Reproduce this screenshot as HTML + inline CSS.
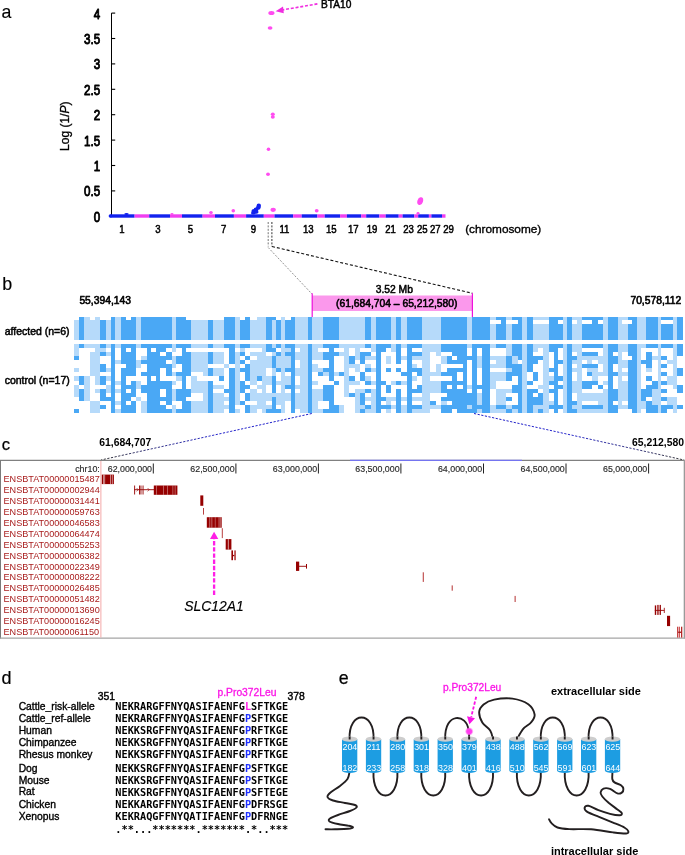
<!DOCTYPE html>
<html><head><meta charset="utf-8"><title>Figure</title>
<style>html,body{margin:0;padding:0;background:#fff;} svg{display:block;}</style>
</head><body>
<svg width="685" height="855" viewBox="0 0 685 855">
<rect width="685" height="855" fill="#fff"/>
<text x="1.6" y="17.7" font-size="17.8" fill="#000" stroke="#000" stroke-width="0.1" stroke-linejoin="round" font-family='"Liberation Sans", Arial, Helvetica, sans-serif'>a</text>
<line x1="111.5" y1="13.1" x2="111.5" y2="216.5" stroke="#000" stroke-width="1"/>
<line x1="111.5" y1="13.1" x2="115.2" y2="13.1" stroke="#000" stroke-width="1.1"/>
<text transform="translate(100.2,18.6) scale(1.0,1.25)" font-size="11.6" text-anchor="end" fill="#000" stroke="#000" stroke-width="0.75" stroke-linejoin="round" font-family='"Liberation Sans", Arial, Helvetica, sans-serif'>4</text>
<line x1="111.5" y1="38.5" x2="115.2" y2="38.5" stroke="#000" stroke-width="1.1"/>
<text transform="translate(100.2,44.0) scale(1.0,1.25)" font-size="11.6" text-anchor="end" fill="#000" stroke="#000" stroke-width="0.75" stroke-linejoin="round" font-family='"Liberation Sans", Arial, Helvetica, sans-serif'>3.5</text>
<line x1="111.5" y1="63.9" x2="115.2" y2="63.9" stroke="#000" stroke-width="1.1"/>
<text transform="translate(100.2,69.4) scale(1.0,1.25)" font-size="11.6" text-anchor="end" fill="#000" stroke="#000" stroke-width="0.75" stroke-linejoin="round" font-family='"Liberation Sans", Arial, Helvetica, sans-serif'>3</text>
<line x1="111.5" y1="89.3" x2="115.2" y2="89.3" stroke="#000" stroke-width="1.1"/>
<text transform="translate(100.2,94.8) scale(1.0,1.25)" font-size="11.6" text-anchor="end" fill="#000" stroke="#000" stroke-width="0.75" stroke-linejoin="round" font-family='"Liberation Sans", Arial, Helvetica, sans-serif'>2.5</text>
<line x1="111.5" y1="114.7" x2="115.2" y2="114.7" stroke="#000" stroke-width="1.1"/>
<text transform="translate(100.2,120.2) scale(1.0,1.25)" font-size="11.6" text-anchor="end" fill="#000" stroke="#000" stroke-width="0.75" stroke-linejoin="round" font-family='"Liberation Sans", Arial, Helvetica, sans-serif'>2</text>
<line x1="111.5" y1="140.1" x2="115.2" y2="140.1" stroke="#000" stroke-width="1.1"/>
<text transform="translate(100.2,145.6) scale(1.0,1.25)" font-size="11.6" text-anchor="end" fill="#000" stroke="#000" stroke-width="0.75" stroke-linejoin="round" font-family='"Liberation Sans", Arial, Helvetica, sans-serif'>1.5</text>
<line x1="111.5" y1="165.5" x2="115.2" y2="165.5" stroke="#000" stroke-width="1.1"/>
<text transform="translate(100.2,171.0) scale(1.0,1.25)" font-size="11.6" text-anchor="end" fill="#000" stroke="#000" stroke-width="0.75" stroke-linejoin="round" font-family='"Liberation Sans", Arial, Helvetica, sans-serif'>1</text>
<line x1="111.5" y1="190.9" x2="115.2" y2="190.9" stroke="#000" stroke-width="1.1"/>
<text transform="translate(100.2,196.4) scale(1.0,1.25)" font-size="11.6" text-anchor="end" fill="#000" stroke="#000" stroke-width="0.75" stroke-linejoin="round" font-family='"Liberation Sans", Arial, Helvetica, sans-serif'>0.5</text>
<text transform="translate(100.2,221.8) scale(1.0,1.25)" font-size="11.6" text-anchor="end" fill="#000" stroke="#000" stroke-width="0.75" stroke-linejoin="round" font-family='"Liberation Sans", Arial, Helvetica, sans-serif'>0</text>
<text transform="translate(69.3,126.2) rotate(-90) scale(1,1.12)" font-size="12" text-anchor="middle" stroke="#000" stroke-width="0.3" font-family='"Liberation Sans", Arial, Helvetica, sans-serif'>Log (1/<tspan font-style="italic">P</tspan>)</text>
<rect x="110.4" y="214.3" width="24.20" height="3.4" fill="#1222ee"/>
<rect x="134.6" y="214.3" width="14.60" height="3.4" fill="#f03ef0"/>
<rect x="149.2" y="214.3" width="20.80" height="3.4" fill="#1222ee"/>
<rect x="170" y="214.3" width="12.00" height="3.4" fill="#f03ef0"/>
<rect x="182" y="214.3" width="20.60" height="3.4" fill="#1222ee"/>
<rect x="202.6" y="214.3" width="12.40" height="3.4" fill="#f03ef0"/>
<rect x="215" y="214.3" width="18.90" height="3.4" fill="#1222ee"/>
<rect x="233.9" y="214.3" width="12.20" height="3.4" fill="#f03ef0"/>
<rect x="246.1" y="214.3" width="17.70" height="3.4" fill="#1222ee"/>
<rect x="263.8" y="214.3" width="10.70" height="3.4" fill="#f03ef0"/>
<rect x="274.5" y="214.3" width="18.70" height="3.4" fill="#1222ee"/>
<rect x="293.2" y="214.3" width="8.50" height="3.4" fill="#f03ef0"/>
<rect x="301.7" y="214.3" width="15.70" height="3.4" fill="#1222ee"/>
<rect x="317.4" y="214.3" width="7.30" height="3.4" fill="#f03ef0"/>
<rect x="324.7" y="214.3" width="15.40" height="3.4" fill="#1222ee"/>
<rect x="340.1" y="214.3" width="6.80" height="3.4" fill="#f03ef0"/>
<rect x="346.9" y="214.3" width="14.30" height="3.4" fill="#1222ee"/>
<rect x="361.2" y="214.3" width="5.00" height="3.4" fill="#f03ef0"/>
<rect x="366.2" y="214.3" width="13.10" height="3.4" fill="#1222ee"/>
<rect x="379.3" y="214.3" width="6.40" height="3.4" fill="#f03ef0"/>
<rect x="385.7" y="214.3" width="13.00" height="3.4" fill="#1222ee"/>
<rect x="398.7" y="214.3" width="3.90" height="3.4" fill="#f03ef0"/>
<rect x="402.6" y="214.3" width="11.70" height="3.4" fill="#1222ee"/>
<rect x="414.3" y="214.3" width="3.90" height="3.4" fill="#f03ef0"/>
<rect x="418.2" y="214.3" width="10.70" height="3.4" fill="#1222ee"/>
<rect x="428.9" y="214.3" width="2.50" height="3.4" fill="#f03ef0"/>
<rect x="431.4" y="214.3" width="10.60" height="3.4" fill="#1222ee"/>
<rect x="442" y="214.3" width="3.50" height="3.4" fill="#f03ef0"/>
<circle cx="110.4" cy="216" r="1.75" fill="#1222ee"/>
<ellipse cx="271.4" cy="12.9" rx="3.1" ry="2.0" fill="#ff4cf0"/>
<ellipse cx="270.1" cy="28" rx="2.4" ry="1.8" fill="#ff4cf0"/>
<ellipse cx="272.8" cy="114.3" rx="2.0" ry="1.7" fill="#ff4cf0"/>
<ellipse cx="272.8" cy="117" rx="2.0" ry="1.7" fill="#ff4cf0"/>
<ellipse cx="268.5" cy="149.3" rx="1.8" ry="1.7" fill="#ff4cf0"/>
<ellipse cx="268" cy="174.3" rx="1.9" ry="1.8" fill="#ff4cf0"/>
<ellipse cx="273.2" cy="209.8" rx="2.7" ry="2.1" fill="#ff4cf0"/>
<ellipse cx="233.3" cy="210.8" rx="1.8" ry="1.7" fill="#ff4cf0"/>
<ellipse cx="211" cy="212.6" rx="1.8" ry="1.5" fill="#ff4cf0"/>
<ellipse cx="316.7" cy="210.8" rx="1.9" ry="1.8" fill="#ff4cf0"/>
<ellipse cx="418" cy="213.3" rx="1.5" ry="1.2" fill="#ff4cf0"/>
<ellipse cx="172" cy="214" rx="1.6" ry="1.1" fill="#ff4cf0"/>
<ellipse cx="254.2" cy="211.5" rx="2.7" ry="2.4" fill="#1222ee"/>
<ellipse cx="256.0" cy="209.8" rx="2.4" ry="2.2" fill="#1222ee"/>
<ellipse cx="258.3" cy="207.6" rx="2.3" ry="2.2" fill="#1222ee"/>
<ellipse cx="258.8" cy="205.8" rx="2.2" ry="2.2" fill="#1222ee"/>
<ellipse cx="253.2" cy="213" rx="2.2" ry="1.6" fill="#1222ee"/>
<ellipse cx="256.5" cy="212" rx="2.0" ry="1.8" fill="#1222ee"/>
<ellipse cx="126.5" cy="214.0" rx="2.2" ry="0.9" fill="#1222ee"/>
<ellipse cx="0" cy="0" rx="2.8" ry="4.0" transform="translate(420.2,201.1) rotate(18)" fill="#ff4cf0"/>
<text transform="translate(121.8,232.8) scale(1.0,1.22)" font-size="9.6" text-anchor="middle" fill="#000" stroke="#000" stroke-width="0.45" stroke-linejoin="round" font-family='"Liberation Sans", Arial, Helvetica, sans-serif'>1</text>
<text transform="translate(157.8,232.8) scale(1.0,1.22)" font-size="9.6" text-anchor="middle" fill="#000" stroke="#000" stroke-width="0.45" stroke-linejoin="round" font-family='"Liberation Sans", Arial, Helvetica, sans-serif'>3</text>
<text transform="translate(190.4,232.8) scale(1.0,1.22)" font-size="9.6" text-anchor="middle" fill="#000" stroke="#000" stroke-width="0.45" stroke-linejoin="round" font-family='"Liberation Sans", Arial, Helvetica, sans-serif'>5</text>
<text transform="translate(223.6,232.8) scale(1.0,1.22)" font-size="9.6" text-anchor="middle" fill="#000" stroke="#000" stroke-width="0.45" stroke-linejoin="round" font-family='"Liberation Sans", Arial, Helvetica, sans-serif'>7</text>
<text transform="translate(253.3,232.8) scale(1.0,1.22)" font-size="9.6" text-anchor="middle" fill="#000" stroke="#000" stroke-width="0.45" stroke-linejoin="round" font-family='"Liberation Sans", Arial, Helvetica, sans-serif'>9</text>
<text transform="translate(284.4,232.8) scale(1.0,1.22)" font-size="9.6" text-anchor="middle" fill="#000" stroke="#000" stroke-width="0.45" stroke-linejoin="round" font-family='"Liberation Sans", Arial, Helvetica, sans-serif'>11</text>
<text transform="translate(308.2,232.8) scale(1.0,1.22)" font-size="9.6" text-anchor="middle" fill="#000" stroke="#000" stroke-width="0.45" stroke-linejoin="round" font-family='"Liberation Sans", Arial, Helvetica, sans-serif'>13</text>
<text transform="translate(331.3,232.8) scale(1.0,1.22)" font-size="9.6" text-anchor="middle" fill="#000" stroke="#000" stroke-width="0.45" stroke-linejoin="round" font-family='"Liberation Sans", Arial, Helvetica, sans-serif'>15</text>
<text transform="translate(353.2,232.8) scale(1.0,1.22)" font-size="9.6" text-anchor="middle" fill="#000" stroke="#000" stroke-width="0.45" stroke-linejoin="round" font-family='"Liberation Sans", Arial, Helvetica, sans-serif'>17</text>
<text transform="translate(372,232.8) scale(1.0,1.22)" font-size="9.6" text-anchor="middle" fill="#000" stroke="#000" stroke-width="0.45" stroke-linejoin="round" font-family='"Liberation Sans", Arial, Helvetica, sans-serif'>19</text>
<text transform="translate(390.5,232.8) scale(1.0,1.22)" font-size="9.6" text-anchor="middle" fill="#000" stroke="#000" stroke-width="0.45" stroke-linejoin="round" font-family='"Liberation Sans", Arial, Helvetica, sans-serif'>21</text>
<text transform="translate(408.5,232.8) scale(1.0,1.22)" font-size="9.6" text-anchor="middle" fill="#000" stroke="#000" stroke-width="0.45" stroke-linejoin="round" font-family='"Liberation Sans", Arial, Helvetica, sans-serif'>23</text>
<text transform="translate(422.3,232.8) scale(1.0,1.22)" font-size="9.6" text-anchor="middle" fill="#000" stroke="#000" stroke-width="0.45" stroke-linejoin="round" font-family='"Liberation Sans", Arial, Helvetica, sans-serif'>25</text>
<text transform="translate(435.2,232.8) scale(1.0,1.22)" font-size="9.6" text-anchor="middle" fill="#000" stroke="#000" stroke-width="0.45" stroke-linejoin="round" font-family='"Liberation Sans", Arial, Helvetica, sans-serif'>27</text>
<text transform="translate(448.6,232.8) scale(1.0,1.22)" font-size="9.6" text-anchor="middle" fill="#000" stroke="#000" stroke-width="0.45" stroke-linejoin="round" font-family='"Liberation Sans", Arial, Helvetica, sans-serif'>29</text>
<text x="465.2" y="233.3" font-size="11.8" fill="#000" stroke="#000" stroke-width="0.35" stroke-linejoin="round" font-family='"Liberation Sans", Arial, Helvetica, sans-serif'>(chromosome)</text>
<text transform="translate(320.9,7.6) scale(1.0,1.08)" font-size="10.2" fill="#000" stroke="#000" stroke-width="0.45" stroke-linejoin="round" font-family='"Liberation Sans", Arial, Helvetica, sans-serif'>BTA10</text>
<line x1="317.4" y1="3.9" x2="282" y2="10" stroke="#f02ee0" stroke-width="1.6" stroke-dasharray="3,1.8"/>
<polygon points="275.6,11.3 283.0,6.6 283.8,13.2" fill="#f02ee0"/>
<line x1="268.2" y1="222" x2="268.2" y2="246.5" stroke="#666" stroke-width="0.9" stroke-dasharray="2,1.4"/>
<line x1="271.9" y1="222" x2="271.9" y2="246.5" stroke="#333" stroke-width="1" stroke-dasharray="2,1.4"/>
<line x1="268.2" y1="247.5" x2="312" y2="294" stroke="#777" stroke-width="0.8" stroke-dasharray="2,1.5"/>
<line x1="272" y1="246.5" x2="472.5" y2="293.3" stroke="#111" stroke-width="1.1" stroke-dasharray="3,2"/>
<text x="2.2" y="289.9" font-size="17.9" fill="#000" stroke="#000" stroke-width="0.15" stroke-linejoin="round" font-family='"Liberation Sans", Arial, Helvetica, sans-serif'>b</text>
<text x="79.4" y="304.2" font-size="10.3" fill="#000" stroke="#000" stroke-width="0.6" stroke-linejoin="round" font-family='"Liberation Sans", Arial, Helvetica, sans-serif'>55,394,143</text>
<text x="681.2" y="304.0" font-size="10.3" text-anchor="end" fill="#000" stroke="#000" stroke-width="0.6" stroke-linejoin="round" font-family='"Liberation Sans", Arial, Helvetica, sans-serif'>70,578,112</text>
<rect x="312" y="295.5" width="160.5" height="15.5" fill="#fb98ec"/>
<line x1="312.2" y1="293.3" x2="312.2" y2="317" stroke="#ee12dc" stroke-width="1.2"/>
<line x1="472.4" y1="293.3" x2="472.4" y2="317" stroke="#ee12dc" stroke-width="1.2"/>
<text x="394.3" y="293.2" font-size="10.3" text-anchor="middle" fill="#000" stroke="#000" stroke-width="0.5" stroke-linejoin="round" font-family='"Liberation Sans", Arial, Helvetica, sans-serif'>3.52 Mb</text>
<text x="396.7" y="307.3" font-size="10.3" text-anchor="middle" fill="#000" stroke="#000" stroke-width="0.55" stroke-linejoin="round" font-family='"Liberation Sans", Arial, Helvetica, sans-serif'>(61,684,704 – 65,212,580)</text>
<text x="4.7" y="335.3" font-size="10.5" fill="#000" stroke="#000" stroke-width="0.5" stroke-linejoin="round" font-family='"Liberation Sans", Arial, Helvetica, sans-serif'>affected (n=6)</text>
<text x="4.7" y="384.0" font-size="10.5" fill="#000" stroke="#000" stroke-width="0.5" stroke-linejoin="round" font-family='"Liberation Sans", Arial, Helvetica, sans-serif'>control (n=17)</text>
<g shape-rendering="crispEdges"><rect x="73.60" y="320.30" width="5.10" height="19.50" fill="#b6dafa"/><rect x="73.60" y="344.00" width="5.10" height="12.18" fill="#b6dafa"/><rect x="73.60" y="356.18" width="5.10" height="4.06" fill="#4aa8f5"/><rect x="73.60" y="368.35" width="5.10" height="4.06" fill="#b6dafa"/><rect x="73.60" y="376.47" width="5.10" height="4.06" fill="#b6dafa"/><rect x="73.60" y="384.59" width="5.10" height="12.18" fill="#b6dafa"/><rect x="73.60" y="408.94" width="5.10" height="4.06" fill="#4aa8f5"/><rect x="78.70" y="317.00" width="5.60" height="22.80" fill="#4aa8f5"/><rect x="78.70" y="344.00" width="5.60" height="4.06" fill="#4aa8f5"/><rect x="78.70" y="376.47" width="5.60" height="8.12" fill="#4aa8f5"/><rect x="78.70" y="388.65" width="5.60" height="12.18" fill="#4aa8f5"/><rect x="84.30" y="317.00" width="5.20" height="22.80" fill="#b6dafa"/><rect x="84.30" y="344.00" width="5.20" height="4.06" fill="#b6dafa"/><rect x="84.30" y="376.47" width="5.20" height="24.35" fill="#b6dafa"/><rect x="89.50" y="320.30" width="5.60" height="19.50" fill="#b6dafa"/><rect x="89.50" y="344.00" width="5.60" height="4.06" fill="#b6dafa"/><rect x="89.50" y="352.12" width="5.60" height="24.35" fill="#b6dafa"/><rect x="89.50" y="400.82" width="5.60" height="12.18" fill="#b6dafa"/><rect x="95.10" y="317.00" width="5.10" height="22.80" fill="#b6dafa"/><rect x="95.10" y="344.00" width="5.10" height="40.59" fill="#b6dafa"/><rect x="95.10" y="388.65" width="5.10" height="4.06" fill="#b6dafa"/><rect x="95.10" y="400.82" width="5.10" height="12.18" fill="#b6dafa"/><rect x="100.20" y="320.30" width="6.00" height="19.50" fill="#4aa8f5"/><rect x="100.20" y="344.00" width="6.00" height="4.06" fill="#4aa8f5"/><rect x="100.20" y="348.06" width="6.00" height="4.06" fill="#b6dafa"/><rect x="100.20" y="352.12" width="6.00" height="4.06" fill="#4aa8f5"/><rect x="100.20" y="364.29" width="6.00" height="8.12" fill="#4aa8f5"/><rect x="100.20" y="376.47" width="6.00" height="8.12" fill="#4aa8f5"/><rect x="100.20" y="388.65" width="6.00" height="12.18" fill="#4aa8f5"/><rect x="100.20" y="404.88" width="6.00" height="4.06" fill="#4aa8f5"/><rect x="106.20" y="320.30" width="5.20" height="19.50" fill="#b6dafa"/><rect x="106.20" y="344.00" width="5.20" height="4.06" fill="#b6dafa"/><rect x="106.20" y="352.12" width="5.20" height="4.06" fill="#b6dafa"/><rect x="106.20" y="368.35" width="5.20" height="4.06" fill="#b6dafa"/><rect x="106.20" y="376.47" width="5.20" height="4.06" fill="#b6dafa"/><rect x="106.20" y="384.59" width="5.20" height="8.12" fill="#b6dafa"/><rect x="106.20" y="396.76" width="5.20" height="4.06" fill="#4aa8f5"/><rect x="111.40" y="317.00" width="3.60" height="22.80" fill="#4aa8f5"/><rect x="111.40" y="344.00" width="3.60" height="69.00" fill="#4aa8f5"/><rect x="115.00" y="317.00" width="6.00" height="22.80" fill="#b6dafa"/><rect x="115.00" y="344.00" width="6.00" height="4.06" fill="#b6dafa"/><rect x="115.00" y="360.24" width="6.00" height="4.06" fill="#b6dafa"/><rect x="115.00" y="380.53" width="6.00" height="4.06" fill="#b6dafa"/><rect x="115.00" y="388.65" width="6.00" height="4.06" fill="#b6dafa"/><rect x="115.00" y="400.82" width="6.00" height="4.06" fill="#b6dafa"/><rect x="115.00" y="408.94" width="6.00" height="4.06" fill="#b6dafa"/><rect x="121.00" y="317.00" width="5.10" height="22.80" fill="#4aa8f5"/><rect x="121.00" y="344.00" width="5.10" height="20.29" fill="#4aa8f5"/><rect x="121.00" y="368.35" width="5.10" height="44.65" fill="#4aa8f5"/><rect x="126.10" y="320.30" width="5.30" height="19.50" fill="#4aa8f5"/><rect x="126.10" y="344.00" width="5.30" height="4.06" fill="#4aa8f5"/><rect x="126.10" y="352.12" width="5.30" height="24.35" fill="#4aa8f5"/><rect x="126.10" y="384.59" width="5.30" height="4.06" fill="#4aa8f5"/><rect x="126.10" y="392.71" width="5.30" height="8.12" fill="#4aa8f5"/><rect x="126.10" y="404.88" width="5.30" height="8.12" fill="#4aa8f5"/><rect x="131.40" y="317.00" width="4.60" height="22.80" fill="#4aa8f5"/><rect x="131.40" y="344.00" width="4.60" height="32.47" fill="#4aa8f5"/><rect x="131.40" y="380.53" width="4.60" height="16.24" fill="#4aa8f5"/><rect x="131.40" y="400.82" width="4.60" height="12.18" fill="#4aa8f5"/><rect x="136.00" y="317.00" width="5.10" height="22.80" fill="#b6dafa"/><rect x="136.00" y="344.00" width="5.10" height="4.06" fill="#b6dafa"/><rect x="136.00" y="360.24" width="5.10" height="8.12" fill="#b6dafa"/><rect x="136.00" y="380.53" width="5.10" height="8.12" fill="#b6dafa"/><rect x="136.00" y="396.76" width="5.10" height="4.06" fill="#b6dafa"/><rect x="141.10" y="317.00" width="5.40" height="22.80" fill="#4aa8f5"/><rect x="141.10" y="344.00" width="5.40" height="4.06" fill="#4aa8f5"/><rect x="141.10" y="356.18" width="5.40" height="4.06" fill="#b6dafa"/><rect x="141.10" y="360.24" width="5.40" height="4.06" fill="#4aa8f5"/><rect x="141.10" y="372.41" width="5.40" height="4.06" fill="#4aa8f5"/><rect x="141.10" y="384.59" width="5.40" height="8.12" fill="#4aa8f5"/><rect x="141.10" y="400.82" width="5.40" height="12.18" fill="#b6dafa"/><rect x="146.50" y="317.00" width="4.20" height="22.80" fill="#4aa8f5"/><rect x="146.50" y="344.00" width="4.20" height="69.00" fill="#4aa8f5"/><rect x="150.70" y="317.00" width="5.30" height="22.80" fill="#4aa8f5"/><rect x="150.70" y="344.00" width="5.30" height="4.06" fill="#4aa8f5"/><rect x="150.70" y="352.12" width="5.30" height="24.35" fill="#4aa8f5"/><rect x="150.70" y="380.53" width="5.30" height="32.47" fill="#4aa8f5"/><rect x="156.00" y="317.00" width="4.20" height="22.80" fill="#4aa8f5"/><rect x="156.00" y="344.00" width="4.20" height="69.00" fill="#4aa8f5"/><rect x="160.20" y="317.00" width="5.40" height="22.80" fill="#4aa8f5"/><rect x="160.20" y="344.00" width="5.40" height="8.12" fill="#4aa8f5"/><rect x="160.20" y="356.18" width="5.40" height="12.18" fill="#4aa8f5"/><rect x="160.20" y="380.53" width="5.40" height="8.12" fill="#4aa8f5"/><rect x="160.20" y="396.76" width="5.40" height="4.06" fill="#4aa8f5"/><rect x="160.20" y="404.88" width="5.40" height="8.12" fill="#4aa8f5"/><rect x="165.60" y="317.00" width="6.00" height="22.80" fill="#4aa8f5"/><rect x="165.60" y="344.00" width="6.00" height="4.06" fill="#4aa8f5"/><rect x="165.60" y="352.12" width="6.00" height="8.12" fill="#4aa8f5"/><rect x="165.60" y="364.29" width="6.00" height="12.18" fill="#4aa8f5"/><rect x="165.60" y="380.53" width="6.00" height="24.35" fill="#4aa8f5"/><rect x="165.60" y="408.94" width="6.00" height="4.06" fill="#4aa8f5"/><rect x="171.60" y="317.00" width="4.70" height="22.80" fill="#b6dafa"/><rect x="171.60" y="344.00" width="4.70" height="8.12" fill="#b6dafa"/><rect x="171.60" y="356.18" width="4.70" height="12.18" fill="#b6dafa"/><rect x="171.60" y="372.41" width="4.70" height="4.06" fill="#b6dafa"/><rect x="171.60" y="380.53" width="4.70" height="4.06" fill="#b6dafa"/><rect x="171.60" y="388.65" width="4.70" height="12.18" fill="#b6dafa"/><rect x="171.60" y="404.88" width="4.70" height="8.12" fill="#b6dafa"/><rect x="176.30" y="317.00" width="5.40" height="22.80" fill="#4aa8f5"/><rect x="176.30" y="344.00" width="5.40" height="4.06" fill="#4aa8f5"/><rect x="176.30" y="356.18" width="5.40" height="8.12" fill="#4aa8f5"/><rect x="176.30" y="372.41" width="5.40" height="4.06" fill="#4aa8f5"/><rect x="176.30" y="376.47" width="5.40" height="4.06" fill="#b6dafa"/><rect x="176.30" y="388.65" width="5.40" height="12.18" fill="#4aa8f5"/><rect x="176.30" y="408.94" width="5.40" height="4.06" fill="#4aa8f5"/><rect x="181.70" y="317.00" width="4.40" height="22.80" fill="#4aa8f5"/><rect x="181.70" y="344.00" width="4.40" height="69.00" fill="#4aa8f5"/><rect x="186.10" y="320.30" width="4.90" height="19.50" fill="#4aa8f5"/><rect x="186.10" y="344.00" width="4.90" height="4.06" fill="#4aa8f5"/><rect x="186.10" y="352.12" width="4.90" height="24.35" fill="#4aa8f5"/><rect x="186.10" y="388.65" width="4.90" height="8.12" fill="#4aa8f5"/><rect x="186.10" y="400.82" width="4.90" height="12.18" fill="#4aa8f5"/><rect x="191.00" y="320.30" width="6.20" height="19.50" fill="#b6dafa"/><rect x="191.00" y="344.00" width="6.20" height="4.06" fill="#b6dafa"/><rect x="191.00" y="352.12" width="6.20" height="20.29" fill="#b6dafa"/><rect x="191.00" y="376.47" width="6.20" height="16.24" fill="#b6dafa"/><rect x="191.00" y="400.82" width="6.20" height="12.18" fill="#b6dafa"/><rect x="197.20" y="320.30" width="5.30" height="19.50" fill="#b6dafa"/><rect x="197.20" y="344.00" width="5.30" height="4.06" fill="#b6dafa"/><rect x="197.20" y="352.12" width="5.30" height="20.29" fill="#b6dafa"/><rect x="197.20" y="380.53" width="5.30" height="12.18" fill="#b6dafa"/><rect x="197.20" y="400.82" width="5.30" height="12.18" fill="#b6dafa"/><rect x="202.50" y="320.30" width="5.40" height="19.50" fill="#b6dafa"/><rect x="202.50" y="344.00" width="5.40" height="4.06" fill="#b6dafa"/><rect x="202.50" y="352.12" width="5.40" height="24.35" fill="#b6dafa"/><rect x="202.50" y="380.53" width="5.40" height="32.47" fill="#b6dafa"/><rect x="207.90" y="320.30" width="5.00" height="19.50" fill="#4aa8f5"/><rect x="207.90" y="344.00" width="5.00" height="4.06" fill="#4aa8f5"/><rect x="207.90" y="352.12" width="5.00" height="12.18" fill="#4aa8f5"/><rect x="207.90" y="368.35" width="5.00" height="8.12" fill="#4aa8f5"/><rect x="207.90" y="380.53" width="5.00" height="32.47" fill="#4aa8f5"/><rect x="212.90" y="320.30" width="5.70" height="19.50" fill="#b6dafa"/><rect x="212.90" y="344.00" width="5.70" height="4.06" fill="#b6dafa"/><rect x="212.90" y="352.12" width="5.70" height="12.18" fill="#b6dafa"/><rect x="212.90" y="368.35" width="5.70" height="8.12" fill="#b6dafa"/><rect x="212.90" y="384.59" width="5.70" height="4.06" fill="#b6dafa"/><rect x="212.90" y="392.71" width="5.70" height="20.29" fill="#b6dafa"/><rect x="218.60" y="320.30" width="5.80" height="19.50" fill="#b6dafa"/><rect x="218.60" y="344.00" width="5.80" height="4.06" fill="#b6dafa"/><rect x="218.60" y="352.12" width="5.80" height="12.18" fill="#b6dafa"/><rect x="218.60" y="368.35" width="5.80" height="8.12" fill="#b6dafa"/><rect x="218.60" y="376.47" width="5.80" height="4.06" fill="#4aa8f5"/><rect x="218.60" y="384.59" width="5.80" height="4.06" fill="#b6dafa"/><rect x="218.60" y="392.71" width="5.80" height="20.29" fill="#b6dafa"/><rect x="224.40" y="317.00" width="5.00" height="22.80" fill="#4aa8f5"/><rect x="224.40" y="344.00" width="5.00" height="4.06" fill="#4aa8f5"/><rect x="224.40" y="364.29" width="5.00" height="4.06" fill="#b6dafa"/><rect x="224.40" y="388.65" width="5.00" height="4.06" fill="#4aa8f5"/><rect x="224.40" y="396.76" width="5.00" height="4.06" fill="#b6dafa"/><rect x="224.40" y="404.88" width="5.00" height="4.06" fill="#b6dafa"/><rect x="229.40" y="317.00" width="5.30" height="22.80" fill="#4aa8f5"/><rect x="229.40" y="344.00" width="5.30" height="20.29" fill="#4aa8f5"/><rect x="229.40" y="368.35" width="5.30" height="44.65" fill="#4aa8f5"/><rect x="234.70" y="317.00" width="4.80" height="22.80" fill="#b6dafa"/><rect x="234.70" y="344.00" width="4.80" height="4.06" fill="#b6dafa"/><rect x="234.70" y="352.12" width="4.80" height="52.76" fill="#b6dafa"/><rect x="234.70" y="408.94" width="4.80" height="4.06" fill="#b6dafa"/><rect x="239.50" y="320.30" width="5.40" height="19.50" fill="#4aa8f5"/><rect x="239.50" y="344.00" width="5.40" height="4.06" fill="#4aa8f5"/><rect x="239.50" y="348.06" width="5.40" height="4.06" fill="#b6dafa"/><rect x="239.50" y="352.12" width="5.40" height="4.06" fill="#4aa8f5"/><rect x="239.50" y="360.24" width="5.40" height="4.06" fill="#4aa8f5"/><rect x="239.50" y="368.35" width="5.40" height="4.06" fill="#4aa8f5"/><rect x="239.50" y="380.53" width="5.40" height="12.18" fill="#4aa8f5"/><rect x="239.50" y="400.82" width="5.40" height="4.06" fill="#4aa8f5"/><rect x="244.90" y="317.00" width="5.10" height="22.80" fill="#4aa8f5"/><rect x="244.90" y="344.00" width="5.10" height="4.06" fill="#4aa8f5"/><rect x="244.90" y="356.18" width="5.10" height="4.06" fill="#4aa8f5"/><rect x="244.90" y="364.29" width="5.10" height="16.24" fill="#4aa8f5"/><rect x="244.90" y="384.59" width="5.10" height="4.06" fill="#4aa8f5"/><rect x="244.90" y="392.71" width="5.10" height="8.12" fill="#4aa8f5"/><rect x="244.90" y="404.88" width="5.10" height="8.12" fill="#4aa8f5"/><rect x="250.00" y="320.30" width="6.60" height="19.50" fill="#b6dafa"/><rect x="250.00" y="344.00" width="6.60" height="4.06" fill="#b6dafa"/><rect x="250.00" y="352.12" width="6.60" height="4.06" fill="#b6dafa"/><rect x="250.00" y="360.24" width="6.60" height="24.35" fill="#b6dafa"/><rect x="250.00" y="388.65" width="6.60" height="12.18" fill="#b6dafa"/><rect x="250.00" y="404.88" width="6.60" height="8.12" fill="#b6dafa"/><rect x="256.60" y="317.00" width="5.30" height="22.80" fill="#b6dafa"/><rect x="256.60" y="344.00" width="5.30" height="4.06" fill="#b6dafa"/><rect x="256.60" y="352.12" width="5.30" height="24.35" fill="#b6dafa"/><rect x="256.60" y="376.47" width="5.30" height="4.06" fill="#4aa8f5"/><rect x="256.60" y="384.59" width="5.30" height="4.06" fill="#b6dafa"/><rect x="256.60" y="392.71" width="5.30" height="16.24" fill="#b6dafa"/><rect x="261.90" y="317.00" width="4.20" height="22.80" fill="#b6dafa"/><rect x="261.90" y="344.00" width="4.20" height="69.00" fill="#b6dafa"/><rect x="266.10" y="317.00" width="5.40" height="22.80" fill="#4aa8f5"/><rect x="266.10" y="344.00" width="5.40" height="8.12" fill="#4aa8f5"/><rect x="266.10" y="356.18" width="5.40" height="12.18" fill="#b6dafa"/><rect x="266.10" y="376.47" width="5.40" height="8.12" fill="#b6dafa"/><rect x="266.10" y="392.71" width="5.40" height="8.12" fill="#b6dafa"/><rect x="266.10" y="404.88" width="5.40" height="4.06" fill="#b6dafa"/><rect x="266.10" y="408.94" width="5.40" height="4.06" fill="#4aa8f5"/><rect x="271.50" y="317.00" width="4.10" height="3.30" fill="#4aa8f5"/><rect x="271.50" y="320.30" width="4.10" height="19.50" fill="#b6dafa"/><rect x="271.50" y="344.00" width="4.10" height="4.06" fill="#b6dafa"/><rect x="271.50" y="348.06" width="4.10" height="4.06" fill="#4aa8f5"/><rect x="271.50" y="352.12" width="4.10" height="4.06" fill="#b6dafa"/><rect x="271.50" y="356.18" width="4.10" height="12.18" fill="#4aa8f5"/><rect x="271.50" y="368.35" width="4.10" height="8.12" fill="#b6dafa"/><rect x="271.50" y="376.47" width="4.10" height="16.24" fill="#4aa8f5"/><rect x="271.50" y="392.71" width="4.10" height="4.06" fill="#b6dafa"/><rect x="271.50" y="396.76" width="4.10" height="16.24" fill="#4aa8f5"/><rect x="275.60" y="320.30" width="5.40" height="19.50" fill="#4aa8f5"/><rect x="275.60" y="344.00" width="5.40" height="4.06" fill="#4aa8f5"/><rect x="275.60" y="352.12" width="5.40" height="4.06" fill="#4aa8f5"/><rect x="275.60" y="356.18" width="5.40" height="12.18" fill="#b6dafa"/><rect x="275.60" y="368.35" width="5.40" height="4.06" fill="#4aa8f5"/><rect x="275.60" y="380.53" width="5.40" height="4.06" fill="#b6dafa"/><rect x="275.60" y="392.71" width="5.40" height="12.18" fill="#b6dafa"/><rect x="275.60" y="408.94" width="5.40" height="4.06" fill="#4aa8f5"/><rect x="281.00" y="317.00" width="4.20" height="22.80" fill="#b6dafa"/><rect x="281.00" y="344.00" width="4.20" height="69.00" fill="#b6dafa"/><rect x="285.20" y="320.30" width="6.00" height="19.50" fill="#4aa8f5"/><rect x="285.20" y="344.00" width="6.00" height="4.06" fill="#4aa8f5"/><rect x="285.20" y="348.06" width="6.00" height="4.06" fill="#b6dafa"/><rect x="285.20" y="352.12" width="6.00" height="4.06" fill="#4aa8f5"/><rect x="285.20" y="356.18" width="6.00" height="12.18" fill="#b6dafa"/><rect x="285.20" y="368.35" width="6.00" height="4.06" fill="#4aa8f5"/><rect x="285.20" y="376.47" width="6.00" height="8.12" fill="#b6dafa"/><rect x="285.20" y="384.59" width="6.00" height="4.06" fill="#4aa8f5"/><rect x="285.20" y="392.71" width="6.00" height="8.12" fill="#b6dafa"/><rect x="291.20" y="317.00" width="3.50" height="22.80" fill="#4aa8f5"/><rect x="291.20" y="344.00" width="3.50" height="69.00" fill="#4aa8f5"/><rect x="294.70" y="317.00" width="5.40" height="22.80" fill="#b6dafa"/><rect x="294.70" y="344.00" width="5.40" height="4.06" fill="#b6dafa"/><rect x="294.70" y="352.12" width="5.40" height="8.12" fill="#b6dafa"/><rect x="294.70" y="368.35" width="5.40" height="8.12" fill="#b6dafa"/><rect x="294.70" y="384.59" width="5.40" height="4.06" fill="#b6dafa"/><rect x="294.70" y="392.71" width="5.40" height="16.24" fill="#b6dafa"/><rect x="300.10" y="317.00" width="7.80" height="22.80" fill="#b6dafa"/><rect x="300.10" y="344.00" width="7.80" height="69.00" fill="#b6dafa"/><rect x="307.90" y="317.00" width="4.30" height="22.80" fill="#4aa8f5"/><rect x="307.90" y="344.00" width="4.30" height="69.00" fill="#4aa8f5"/><rect x="312.20" y="317.00" width="5.30" height="22.80" fill="#b6dafa"/><rect x="312.20" y="344.00" width="5.30" height="16.24" fill="#b6dafa"/><rect x="312.20" y="364.29" width="5.30" height="8.12" fill="#b6dafa"/><rect x="312.20" y="380.53" width="5.30" height="4.06" fill="#b6dafa"/><rect x="312.20" y="388.65" width="5.30" height="24.35" fill="#b6dafa"/><rect x="317.50" y="317.00" width="5.40" height="22.80" fill="#b6dafa"/><rect x="317.50" y="344.00" width="5.40" height="4.06" fill="#b6dafa"/><rect x="317.50" y="352.12" width="5.40" height="8.12" fill="#b6dafa"/><rect x="317.50" y="368.35" width="5.40" height="4.06" fill="#b6dafa"/><rect x="317.50" y="372.41" width="5.40" height="4.06" fill="#4aa8f5"/><rect x="317.50" y="388.65" width="5.40" height="12.18" fill="#b6dafa"/><rect x="317.50" y="408.94" width="5.40" height="4.06" fill="#b6dafa"/><rect x="322.90" y="317.00" width="6.00" height="22.80" fill="#4aa8f5"/><rect x="322.90" y="344.00" width="6.00" height="4.06" fill="#4aa8f5"/><rect x="322.90" y="352.12" width="6.00" height="8.12" fill="#4aa8f5"/><rect x="322.90" y="368.35" width="6.00" height="4.06" fill="#4aa8f5"/><rect x="322.90" y="372.41" width="6.00" height="4.06" fill="#b6dafa"/><rect x="322.90" y="384.59" width="6.00" height="16.24" fill="#4aa8f5"/><rect x="322.90" y="408.94" width="6.00" height="4.06" fill="#4aa8f5"/><rect x="328.90" y="317.00" width="5.30" height="22.80" fill="#4aa8f5"/><rect x="328.90" y="344.00" width="5.30" height="36.53" fill="#4aa8f5"/><rect x="328.90" y="384.59" width="5.30" height="28.41" fill="#4aa8f5"/><rect x="334.20" y="317.00" width="5.10" height="22.80" fill="#4aa8f5"/><rect x="334.20" y="344.00" width="5.10" height="4.06" fill="#4aa8f5"/><rect x="334.20" y="352.12" width="5.10" height="4.06" fill="#4aa8f5"/><rect x="334.20" y="372.41" width="5.10" height="4.06" fill="#b6dafa"/><rect x="334.20" y="380.53" width="5.10" height="4.06" fill="#4aa8f5"/><rect x="334.20" y="404.88" width="5.10" height="8.12" fill="#4aa8f5"/><rect x="339.30" y="317.00" width="5.10" height="22.80" fill="#b6dafa"/><rect x="339.30" y="344.00" width="5.10" height="4.06" fill="#b6dafa"/><rect x="339.30" y="352.12" width="5.10" height="4.06" fill="#b6dafa"/><rect x="339.30" y="372.41" width="5.10" height="4.06" fill="#4aa8f5"/><rect x="339.30" y="404.88" width="5.10" height="8.12" fill="#b6dafa"/><rect x="344.40" y="317.00" width="4.80" height="22.80" fill="#b6dafa"/><rect x="344.40" y="344.00" width="4.80" height="52.76" fill="#b6dafa"/><rect x="349.20" y="317.00" width="5.30" height="22.80" fill="#b6dafa"/><rect x="349.20" y="344.00" width="5.30" height="4.06" fill="#b6dafa"/><rect x="349.20" y="356.18" width="5.30" height="8.12" fill="#4aa8f5"/><rect x="349.20" y="364.29" width="5.30" height="4.06" fill="#b6dafa"/><rect x="349.20" y="376.47" width="5.30" height="4.06" fill="#4aa8f5"/><rect x="349.20" y="380.53" width="5.30" height="4.06" fill="#b6dafa"/><rect x="349.20" y="392.71" width="5.30" height="4.06" fill="#4aa8f5"/><rect x="354.50" y="317.00" width="5.00" height="22.80" fill="#b6dafa"/><rect x="354.50" y="344.00" width="5.00" height="16.24" fill="#b6dafa"/><rect x="354.50" y="364.29" width="5.00" height="8.12" fill="#b6dafa"/><rect x="354.50" y="380.53" width="5.00" height="4.06" fill="#b6dafa"/><rect x="354.50" y="388.65" width="5.00" height="24.35" fill="#b6dafa"/><rect x="359.50" y="317.00" width="5.50" height="22.80" fill="#b6dafa"/><rect x="359.50" y="344.00" width="5.50" height="4.06" fill="#b6dafa"/><rect x="359.50" y="352.12" width="5.50" height="12.18" fill="#4aa8f5"/><rect x="359.50" y="372.41" width="5.50" height="8.12" fill="#4aa8f5"/><rect x="359.50" y="388.65" width="5.50" height="4.06" fill="#b6dafa"/><rect x="359.50" y="392.71" width="5.50" height="12.18" fill="#4aa8f5"/><rect x="359.50" y="404.88" width="5.50" height="4.06" fill="#b6dafa"/><rect x="359.50" y="408.94" width="5.50" height="4.06" fill="#4aa8f5"/><rect x="365.00" y="317.00" width="6.00" height="22.80" fill="#4aa8f5"/><rect x="365.00" y="344.00" width="6.00" height="4.06" fill="#4aa8f5"/><rect x="365.00" y="352.12" width="6.00" height="4.06" fill="#4aa8f5"/><rect x="365.00" y="356.18" width="6.00" height="4.06" fill="#b6dafa"/><rect x="365.00" y="364.29" width="6.00" height="4.06" fill="#b6dafa"/><rect x="365.00" y="368.35" width="6.00" height="4.06" fill="#4aa8f5"/><rect x="365.00" y="376.47" width="6.00" height="4.06" fill="#b6dafa"/><rect x="365.00" y="380.53" width="6.00" height="4.06" fill="#4aa8f5"/><rect x="365.00" y="388.65" width="6.00" height="4.06" fill="#4aa8f5"/><rect x="365.00" y="396.76" width="6.00" height="4.06" fill="#b6dafa"/><rect x="365.00" y="404.88" width="6.00" height="4.06" fill="#4aa8f5"/><rect x="365.00" y="408.94" width="6.00" height="4.06" fill="#b6dafa"/><rect x="371.00" y="317.00" width="5.30" height="22.80" fill="#b6dafa"/><rect x="371.00" y="344.00" width="5.30" height="8.12" fill="#b6dafa"/><rect x="371.00" y="356.18" width="5.30" height="4.06" fill="#b6dafa"/><rect x="371.00" y="368.35" width="5.30" height="4.06" fill="#b6dafa"/><rect x="371.00" y="380.53" width="5.30" height="4.06" fill="#b6dafa"/><rect x="371.00" y="388.65" width="5.30" height="24.35" fill="#b6dafa"/><rect x="376.30" y="317.00" width="4.20" height="22.80" fill="#4aa8f5"/><rect x="376.30" y="344.00" width="4.20" height="69.00" fill="#4aa8f5"/><rect x="380.50" y="317.00" width="5.40" height="22.80" fill="#4aa8f5"/><rect x="380.50" y="344.00" width="5.40" height="8.12" fill="#4aa8f5"/><rect x="380.50" y="380.53" width="5.40" height="4.06" fill="#4aa8f5"/><rect x="380.50" y="396.76" width="5.40" height="4.06" fill="#4aa8f5"/><rect x="380.50" y="404.88" width="5.40" height="4.06" fill="#4aa8f5"/><rect x="385.90" y="317.00" width="5.30" height="22.80" fill="#4aa8f5"/><rect x="385.90" y="344.00" width="5.30" height="4.06" fill="#4aa8f5"/><rect x="385.90" y="356.18" width="5.30" height="8.12" fill="#b6dafa"/><rect x="385.90" y="368.35" width="5.30" height="4.06" fill="#4aa8f5"/><rect x="385.90" y="384.59" width="5.30" height="8.12" fill="#4aa8f5"/><rect x="385.90" y="396.76" width="5.30" height="8.12" fill="#b6dafa"/><rect x="385.90" y="404.88" width="5.30" height="4.06" fill="#4aa8f5"/><rect x="385.90" y="408.94" width="5.30" height="4.06" fill="#b6dafa"/><rect x="391.20" y="317.00" width="5.10" height="22.80" fill="#b6dafa"/><rect x="391.20" y="344.00" width="5.10" height="8.12" fill="#b6dafa"/><rect x="391.20" y="380.53" width="5.10" height="4.06" fill="#b6dafa"/><rect x="391.20" y="396.76" width="5.10" height="4.06" fill="#b6dafa"/><rect x="391.20" y="404.88" width="5.10" height="4.06" fill="#b6dafa"/><rect x="396.30" y="317.00" width="5.10" height="22.80" fill="#4aa8f5"/><rect x="396.30" y="344.00" width="5.10" height="20.29" fill="#4aa8f5"/><rect x="396.30" y="368.35" width="5.10" height="4.06" fill="#4aa8f5"/><rect x="396.30" y="380.53" width="5.10" height="4.06" fill="#4aa8f5"/><rect x="396.30" y="388.65" width="5.10" height="24.35" fill="#4aa8f5"/><rect x="401.40" y="317.00" width="5.40" height="22.80" fill="#b6dafa"/><rect x="401.40" y="344.00" width="5.40" height="4.06" fill="#b6dafa"/><rect x="401.40" y="356.18" width="5.40" height="4.06" fill="#b6dafa"/><rect x="401.40" y="372.41" width="5.40" height="4.06" fill="#4aa8f5"/><rect x="401.40" y="380.53" width="5.40" height="4.06" fill="#b6dafa"/><rect x="401.40" y="396.76" width="5.40" height="4.06" fill="#b6dafa"/><rect x="401.40" y="404.88" width="5.40" height="8.12" fill="#b6dafa"/><rect x="406.80" y="317.00" width="4.70" height="22.80" fill="#4aa8f5"/><rect x="406.80" y="344.00" width="4.70" height="69.00" fill="#4aa8f5"/><rect x="411.50" y="317.00" width="5.40" height="22.80" fill="#4aa8f5"/><rect x="411.50" y="344.00" width="5.40" height="4.06" fill="#4aa8f5"/><rect x="411.50" y="352.12" width="5.40" height="4.06" fill="#4aa8f5"/><rect x="411.50" y="356.18" width="5.40" height="4.06" fill="#b6dafa"/><rect x="411.50" y="364.29" width="5.40" height="4.06" fill="#b6dafa"/><rect x="411.50" y="368.35" width="5.40" height="4.06" fill="#4aa8f5"/><rect x="411.50" y="376.47" width="5.40" height="4.06" fill="#b6dafa"/><rect x="411.50" y="388.65" width="5.40" height="4.06" fill="#4aa8f5"/><rect x="411.50" y="396.76" width="5.40" height="4.06" fill="#b6dafa"/><rect x="411.50" y="404.88" width="5.40" height="4.06" fill="#4aa8f5"/><rect x="411.50" y="408.94" width="5.40" height="4.06" fill="#b6dafa"/><rect x="416.90" y="317.00" width="5.40" height="22.80" fill="#4aa8f5"/><rect x="416.90" y="344.00" width="5.40" height="4.06" fill="#4aa8f5"/><rect x="416.90" y="352.12" width="5.40" height="4.06" fill="#4aa8f5"/><rect x="416.90" y="356.18" width="5.40" height="4.06" fill="#b6dafa"/><rect x="416.90" y="368.35" width="5.40" height="8.12" fill="#4aa8f5"/><rect x="416.90" y="384.59" width="5.40" height="8.12" fill="#4aa8f5"/><rect x="416.90" y="396.76" width="5.40" height="4.06" fill="#b6dafa"/><rect x="416.90" y="404.88" width="5.40" height="4.06" fill="#4aa8f5"/><rect x="416.90" y="408.94" width="5.40" height="4.06" fill="#b6dafa"/><rect x="422.30" y="317.00" width="2.70" height="22.80" fill="#b6dafa"/><rect x="422.30" y="344.00" width="2.70" height="69.00" fill="#b6dafa"/><rect x="425.00" y="317.00" width="5.40" height="22.80" fill="#b6dafa"/><rect x="425.00" y="344.00" width="5.40" height="69.00" fill="#b6dafa"/><rect x="430.40" y="317.00" width="5.30" height="22.80" fill="#b6dafa"/><rect x="430.40" y="344.00" width="5.30" height="8.12" fill="#b6dafa"/><rect x="430.40" y="372.41" width="5.30" height="4.06" fill="#b6dafa"/><rect x="430.40" y="380.53" width="5.30" height="12.18" fill="#b6dafa"/><rect x="430.40" y="400.82" width="5.30" height="4.06" fill="#4aa8f5"/><rect x="430.40" y="404.88" width="5.30" height="4.06" fill="#b6dafa"/><rect x="435.70" y="317.00" width="5.40" height="22.80" fill="#b6dafa"/><rect x="435.70" y="344.00" width="5.40" height="12.18" fill="#b6dafa"/><rect x="435.70" y="364.29" width="5.40" height="12.18" fill="#b6dafa"/><rect x="435.70" y="380.53" width="5.40" height="12.18" fill="#b6dafa"/><rect x="435.70" y="404.88" width="5.40" height="4.06" fill="#b6dafa"/><rect x="441.10" y="317.00" width="5.40" height="22.80" fill="#4aa8f5"/><rect x="441.10" y="344.00" width="5.40" height="8.12" fill="#4aa8f5"/><rect x="441.10" y="356.18" width="5.40" height="8.12" fill="#b6dafa"/><rect x="441.10" y="372.41" width="5.40" height="4.06" fill="#4aa8f5"/><rect x="441.10" y="380.53" width="5.40" height="12.18" fill="#4aa8f5"/><rect x="441.10" y="396.76" width="5.40" height="4.06" fill="#4aa8f5"/><rect x="441.10" y="400.82" width="5.40" height="4.06" fill="#b6dafa"/><rect x="441.10" y="404.88" width="5.40" height="8.12" fill="#4aa8f5"/><rect x="446.50" y="317.00" width="5.30" height="22.80" fill="#4aa8f5"/><rect x="446.50" y="344.00" width="5.30" height="8.12" fill="#4aa8f5"/><rect x="446.50" y="356.18" width="5.30" height="8.12" fill="#4aa8f5"/><rect x="446.50" y="368.35" width="5.30" height="8.12" fill="#4aa8f5"/><rect x="446.50" y="380.53" width="5.30" height="4.06" fill="#4aa8f5"/><rect x="446.50" y="388.65" width="5.30" height="12.18" fill="#4aa8f5"/><rect x="446.50" y="404.88" width="5.30" height="8.12" fill="#4aa8f5"/><rect x="451.80" y="317.00" width="5.40" height="22.80" fill="#4aa8f5"/><rect x="451.80" y="344.00" width="5.40" height="12.18" fill="#4aa8f5"/><rect x="451.80" y="360.24" width="5.40" height="4.06" fill="#4aa8f5"/><rect x="451.80" y="368.35" width="5.40" height="40.59" fill="#4aa8f5"/><rect x="457.20" y="317.00" width="5.40" height="22.80" fill="#4aa8f5"/><rect x="457.20" y="344.00" width="5.40" height="20.29" fill="#4aa8f5"/><rect x="457.20" y="368.35" width="5.40" height="4.06" fill="#4aa8f5"/><rect x="457.20" y="380.53" width="5.40" height="4.06" fill="#4aa8f5"/><rect x="457.20" y="388.65" width="5.40" height="24.35" fill="#4aa8f5"/><rect x="462.60" y="317.00" width="4.70" height="22.80" fill="#4aa8f5"/><rect x="462.60" y="344.00" width="4.70" height="69.00" fill="#4aa8f5"/><rect x="467.30" y="317.00" width="4.80" height="22.80" fill="#b6dafa"/><rect x="467.30" y="344.00" width="4.80" height="4.06" fill="#b6dafa"/><rect x="467.30" y="356.18" width="4.80" height="4.06" fill="#4aa8f5"/><rect x="467.30" y="384.59" width="4.80" height="4.06" fill="#b6dafa"/><rect x="467.30" y="392.71" width="4.80" height="12.18" fill="#4aa8f5"/><rect x="467.30" y="404.88" width="4.80" height="4.06" fill="#b6dafa"/><rect x="467.30" y="408.94" width="4.80" height="4.06" fill="#4aa8f5"/><rect x="472.10" y="317.00" width="4.80" height="22.80" fill="#4aa8f5"/><rect x="472.10" y="344.00" width="4.80" height="69.00" fill="#4aa8f5"/><rect x="476.90" y="317.00" width="5.10" height="22.80" fill="#4aa8f5"/><rect x="476.90" y="344.00" width="5.10" height="4.06" fill="#4aa8f5"/><rect x="476.90" y="356.18" width="5.10" height="12.18" fill="#b6dafa"/><rect x="476.90" y="384.59" width="5.10" height="4.06" fill="#4aa8f5"/><rect x="476.90" y="392.71" width="5.10" height="12.18" fill="#b6dafa"/><rect x="476.90" y="404.88" width="5.10" height="4.06" fill="#4aa8f5"/><rect x="476.90" y="408.94" width="5.10" height="4.06" fill="#b6dafa"/><rect x="482.00" y="317.00" width="4.00" height="22.80" fill="#4aa8f5"/><rect x="482.00" y="344.00" width="4.00" height="69.00" fill="#4aa8f5"/><rect x="486.00" y="317.00" width="4.10" height="22.80" fill="#4aa8f5"/><rect x="486.00" y="344.00" width="4.10" height="69.00" fill="#4aa8f5"/><rect x="490.10" y="317.00" width="5.40" height="3.30" fill="#b6dafa"/><rect x="490.10" y="324.20" width="5.40" height="15.60" fill="#b6dafa"/><rect x="490.10" y="344.00" width="5.40" height="4.06" fill="#b6dafa"/><rect x="490.10" y="356.18" width="5.40" height="4.06" fill="#b6dafa"/><rect x="490.10" y="364.29" width="5.40" height="4.06" fill="#b6dafa"/><rect x="490.10" y="372.41" width="5.40" height="16.24" fill="#b6dafa"/><rect x="490.10" y="404.88" width="5.40" height="8.12" fill="#b6dafa"/><rect x="495.50" y="317.00" width="5.40" height="3.30" fill="#4aa8f5"/><rect x="495.50" y="324.20" width="5.40" height="15.60" fill="#4aa8f5"/><rect x="495.50" y="344.00" width="5.40" height="4.06" fill="#4aa8f5"/><rect x="495.50" y="356.18" width="5.40" height="12.18" fill="#b6dafa"/><rect x="495.50" y="372.41" width="5.40" height="8.12" fill="#b6dafa"/><rect x="495.50" y="388.65" width="5.40" height="16.24" fill="#b6dafa"/><rect x="495.50" y="404.88" width="5.40" height="4.06" fill="#4aa8f5"/><rect x="495.50" y="408.94" width="5.40" height="4.06" fill="#b6dafa"/><rect x="500.90" y="317.00" width="5.30" height="22.80" fill="#4aa8f5"/><rect x="500.90" y="344.00" width="5.30" height="4.06" fill="#4aa8f5"/><rect x="500.90" y="356.18" width="5.30" height="12.18" fill="#b6dafa"/><rect x="500.90" y="372.41" width="5.30" height="8.12" fill="#b6dafa"/><rect x="500.90" y="388.65" width="5.30" height="16.24" fill="#b6dafa"/><rect x="500.90" y="404.88" width="5.30" height="4.06" fill="#4aa8f5"/><rect x="500.90" y="408.94" width="5.30" height="4.06" fill="#b6dafa"/><rect x="506.20" y="317.00" width="5.40" height="3.30" fill="#b6dafa"/><rect x="506.20" y="324.20" width="5.40" height="15.60" fill="#b6dafa"/><rect x="506.20" y="344.00" width="5.40" height="12.18" fill="#b6dafa"/><rect x="506.20" y="356.18" width="5.40" height="12.18" fill="#4aa8f5"/><rect x="506.20" y="368.35" width="5.40" height="4.06" fill="#b6dafa"/><rect x="506.20" y="372.41" width="5.40" height="8.12" fill="#4aa8f5"/><rect x="506.20" y="388.65" width="5.40" height="4.06" fill="#b6dafa"/><rect x="506.20" y="396.76" width="5.40" height="4.06" fill="#4aa8f5"/><rect x="506.20" y="404.88" width="5.40" height="4.06" fill="#b6dafa"/><rect x="506.20" y="408.94" width="5.40" height="4.06" fill="#4aa8f5"/><rect x="511.60" y="317.00" width="6.00" height="3.30" fill="#4aa8f5"/><rect x="511.60" y="324.20" width="6.00" height="15.60" fill="#4aa8f5"/><rect x="511.60" y="344.00" width="6.00" height="12.18" fill="#4aa8f5"/><rect x="511.60" y="356.18" width="6.00" height="8.12" fill="#b6dafa"/><rect x="511.60" y="364.29" width="6.00" height="12.18" fill="#4aa8f5"/><rect x="511.60" y="384.59" width="6.00" height="8.12" fill="#4aa8f5"/><rect x="511.60" y="404.88" width="6.00" height="4.06" fill="#4aa8f5"/><rect x="511.60" y="408.94" width="6.00" height="4.06" fill="#b6dafa"/><rect x="517.60" y="317.00" width="4.70" height="22.80" fill="#4aa8f5"/><rect x="517.60" y="344.00" width="4.70" height="16.24" fill="#4aa8f5"/><rect x="517.60" y="364.29" width="4.70" height="48.71" fill="#4aa8f5"/><rect x="522.30" y="317.00" width="4.80" height="22.80" fill="#b6dafa"/><rect x="522.30" y="344.00" width="4.80" height="69.00" fill="#b6dafa"/><rect x="527.10" y="317.00" width="5.40" height="22.80" fill="#4aa8f5"/><rect x="527.10" y="344.00" width="5.40" height="28.41" fill="#4aa8f5"/><rect x="527.10" y="380.53" width="5.40" height="4.06" fill="#4aa8f5"/><rect x="527.10" y="388.65" width="5.40" height="24.35" fill="#4aa8f5"/><rect x="532.50" y="317.00" width="5.50" height="3.30" fill="#b6dafa"/><rect x="532.50" y="324.20" width="5.50" height="15.60" fill="#b6dafa"/><rect x="532.50" y="344.00" width="5.50" height="8.12" fill="#b6dafa"/><rect x="532.50" y="356.18" width="5.50" height="8.12" fill="#4aa8f5"/><rect x="532.50" y="372.41" width="5.50" height="8.12" fill="#4aa8f5"/><rect x="532.50" y="388.65" width="5.50" height="4.06" fill="#4aa8f5"/><rect x="532.50" y="396.76" width="5.50" height="8.12" fill="#4aa8f5"/><rect x="532.50" y="404.88" width="5.50" height="8.12" fill="#b6dafa"/><rect x="538.00" y="317.00" width="5.40" height="3.30" fill="#b6dafa"/><rect x="538.00" y="324.20" width="5.40" height="15.60" fill="#b6dafa"/><rect x="538.00" y="344.00" width="5.40" height="4.06" fill="#b6dafa"/><rect x="538.00" y="356.18" width="5.40" height="4.06" fill="#4aa8f5"/><rect x="538.00" y="384.59" width="5.40" height="4.06" fill="#b6dafa"/><rect x="538.00" y="392.71" width="5.40" height="12.18" fill="#4aa8f5"/><rect x="538.00" y="404.88" width="5.40" height="4.06" fill="#b6dafa"/><rect x="538.00" y="408.94" width="5.40" height="4.06" fill="#4aa8f5"/><rect x="543.40" y="317.00" width="5.30" height="3.30" fill="#b6dafa"/><rect x="543.40" y="324.20" width="5.30" height="15.60" fill="#b6dafa"/><rect x="543.40" y="344.00" width="5.30" height="69.00" fill="#b6dafa"/><rect x="548.70" y="317.00" width="5.40" height="22.80" fill="#4aa8f5"/><rect x="548.70" y="344.00" width="5.40" height="8.12" fill="#4aa8f5"/><rect x="548.70" y="368.35" width="5.40" height="4.06" fill="#4aa8f5"/><rect x="548.70" y="376.47" width="5.40" height="4.06" fill="#b6dafa"/><rect x="548.70" y="380.53" width="5.40" height="4.06" fill="#4aa8f5"/><rect x="548.70" y="388.65" width="5.40" height="4.06" fill="#4aa8f5"/><rect x="548.70" y="400.82" width="5.40" height="4.06" fill="#b6dafa"/><rect x="548.70" y="404.88" width="5.40" height="4.06" fill="#4aa8f5"/><rect x="554.10" y="317.00" width="3.60" height="22.80" fill="#4aa8f5"/><rect x="554.10" y="344.00" width="3.60" height="69.00" fill="#4aa8f5"/><rect x="557.70" y="317.00" width="5.30" height="3.30" fill="#4aa8f5"/><rect x="557.70" y="324.20" width="5.30" height="15.60" fill="#4aa8f5"/><rect x="557.70" y="344.00" width="5.30" height="4.06" fill="#4aa8f5"/><rect x="557.70" y="360.24" width="5.30" height="4.06" fill="#4aa8f5"/><rect x="557.70" y="376.47" width="5.30" height="4.06" fill="#4aa8f5"/><rect x="557.70" y="384.59" width="5.30" height="4.06" fill="#4aa8f5"/><rect x="557.70" y="404.88" width="5.30" height="4.06" fill="#4aa8f5"/><rect x="563.00" y="317.00" width="4.20" height="22.80" fill="#b6dafa"/><rect x="563.00" y="344.00" width="4.20" height="69.00" fill="#b6dafa"/><rect x="567.20" y="317.00" width="4.80" height="22.80" fill="#4aa8f5"/><rect x="567.20" y="344.00" width="4.80" height="69.00" fill="#4aa8f5"/><rect x="572.00" y="317.00" width="5.40" height="3.30" fill="#b6dafa"/><rect x="572.00" y="324.20" width="5.40" height="15.60" fill="#b6dafa"/><rect x="572.00" y="344.00" width="5.40" height="8.12" fill="#b6dafa"/><rect x="572.00" y="356.18" width="5.40" height="4.06" fill="#4aa8f5"/><rect x="572.00" y="360.24" width="5.40" height="4.06" fill="#b6dafa"/><rect x="572.00" y="368.35" width="5.40" height="4.06" fill="#b6dafa"/><rect x="572.00" y="380.53" width="5.40" height="12.18" fill="#b6dafa"/><rect x="572.00" y="400.82" width="5.40" height="4.06" fill="#4aa8f5"/><rect x="572.00" y="404.88" width="5.40" height="4.06" fill="#b6dafa"/><rect x="572.00" y="408.94" width="5.40" height="4.06" fill="#4aa8f5"/><rect x="577.40" y="317.00" width="4.10" height="22.80" fill="#b6dafa"/><rect x="577.40" y="344.00" width="4.10" height="69.00" fill="#b6dafa"/><rect x="581.50" y="317.00" width="5.40" height="3.30" fill="#4aa8f5"/><rect x="581.50" y="324.20" width="5.40" height="15.60" fill="#4aa8f5"/><rect x="581.50" y="344.00" width="5.40" height="4.06" fill="#4aa8f5"/><rect x="581.50" y="352.12" width="5.40" height="4.06" fill="#4aa8f5"/><rect x="581.50" y="356.18" width="5.40" height="4.06" fill="#b6dafa"/><rect x="581.50" y="364.29" width="5.40" height="4.06" fill="#4aa8f5"/><rect x="581.50" y="380.53" width="5.40" height="8.12" fill="#4aa8f5"/><rect x="581.50" y="392.71" width="5.40" height="8.12" fill="#b6dafa"/><rect x="581.50" y="404.88" width="5.40" height="4.06" fill="#4aa8f5"/><rect x="581.50" y="408.94" width="5.40" height="4.06" fill="#b6dafa"/><rect x="586.90" y="317.00" width="5.40" height="3.30" fill="#4aa8f5"/><rect x="586.90" y="324.20" width="5.40" height="15.60" fill="#4aa8f5"/><rect x="586.90" y="344.00" width="5.40" height="4.06" fill="#4aa8f5"/><rect x="586.90" y="352.12" width="5.40" height="4.06" fill="#4aa8f5"/><rect x="586.90" y="356.18" width="5.40" height="8.12" fill="#b6dafa"/><rect x="586.90" y="364.29" width="5.40" height="4.06" fill="#4aa8f5"/><rect x="586.90" y="368.35" width="5.40" height="4.06" fill="#b6dafa"/><rect x="586.90" y="372.41" width="5.40" height="4.06" fill="#4aa8f5"/><rect x="586.90" y="380.53" width="5.40" height="8.12" fill="#4aa8f5"/><rect x="586.90" y="392.71" width="5.40" height="8.12" fill="#b6dafa"/><rect x="586.90" y="404.88" width="5.40" height="4.06" fill="#4aa8f5"/><rect x="586.90" y="408.94" width="5.40" height="4.06" fill="#b6dafa"/><rect x="592.30" y="317.00" width="5.50" height="22.80" fill="#4aa8f5"/><rect x="592.30" y="344.00" width="5.50" height="4.06" fill="#4aa8f5"/><rect x="592.30" y="352.12" width="5.50" height="4.06" fill="#4aa8f5"/><rect x="592.30" y="356.18" width="5.50" height="4.06" fill="#b6dafa"/><rect x="592.30" y="364.29" width="5.50" height="4.06" fill="#4aa8f5"/><rect x="592.30" y="368.35" width="5.50" height="12.18" fill="#b6dafa"/><rect x="592.30" y="380.53" width="5.50" height="4.06" fill="#4aa8f5"/><rect x="592.30" y="392.71" width="5.50" height="8.12" fill="#b6dafa"/><rect x="592.30" y="404.88" width="5.50" height="4.06" fill="#4aa8f5"/><rect x="592.30" y="408.94" width="5.50" height="4.06" fill="#b6dafa"/><rect x="597.80" y="317.00" width="5.40" height="3.30" fill="#4aa8f5"/><rect x="597.80" y="324.20" width="5.40" height="15.60" fill="#4aa8f5"/><rect x="597.80" y="344.00" width="5.40" height="4.06" fill="#4aa8f5"/><rect x="597.80" y="356.18" width="5.40" height="8.12" fill="#b6dafa"/><rect x="597.80" y="372.41" width="5.40" height="4.06" fill="#b6dafa"/><rect x="597.80" y="384.59" width="5.40" height="4.06" fill="#4aa8f5"/><rect x="597.80" y="392.71" width="5.40" height="12.18" fill="#b6dafa"/><rect x="597.80" y="404.88" width="5.40" height="4.06" fill="#4aa8f5"/><rect x="597.80" y="408.94" width="5.40" height="4.06" fill="#b6dafa"/><rect x="603.20" y="317.00" width="4.70" height="22.80" fill="#b6dafa"/><rect x="603.20" y="344.00" width="4.70" height="32.47" fill="#b6dafa"/><rect x="603.20" y="380.53" width="4.70" height="4.06" fill="#b6dafa"/><rect x="603.20" y="388.65" width="4.70" height="24.35" fill="#b6dafa"/><rect x="607.90" y="317.00" width="4.80" height="22.80" fill="#4aa8f5"/><rect x="607.90" y="344.00" width="4.80" height="69.00" fill="#4aa8f5"/><rect x="612.70" y="317.00" width="5.40" height="22.80" fill="#4aa8f5"/><rect x="612.70" y="344.00" width="5.40" height="8.12" fill="#4aa8f5"/><rect x="612.70" y="356.18" width="5.40" height="8.12" fill="#4aa8f5"/><rect x="612.70" y="372.41" width="5.40" height="4.06" fill="#4aa8f5"/><rect x="612.70" y="388.65" width="5.40" height="12.18" fill="#4aa8f5"/><rect x="612.70" y="404.88" width="5.40" height="8.12" fill="#4aa8f5"/><rect x="618.10" y="317.00" width="4.10" height="22.80" fill="#b6dafa"/><rect x="618.10" y="344.00" width="4.10" height="64.94" fill="#b6dafa"/><rect x="622.20" y="317.00" width="5.40" height="3.30" fill="#b6dafa"/><rect x="622.20" y="324.20" width="5.40" height="15.60" fill="#b6dafa"/><rect x="622.20" y="344.00" width="5.40" height="8.12" fill="#b6dafa"/><rect x="622.20" y="360.24" width="5.40" height="8.12" fill="#b6dafa"/><rect x="622.20" y="372.41" width="5.40" height="4.06" fill="#b6dafa"/><rect x="622.20" y="380.53" width="5.40" height="20.29" fill="#b6dafa"/><rect x="622.20" y="404.88" width="5.40" height="4.06" fill="#b6dafa"/><rect x="627.60" y="317.00" width="4.80" height="3.30" fill="#4aa8f5"/><rect x="627.60" y="324.20" width="4.80" height="15.60" fill="#4aa8f5"/><rect x="627.60" y="344.00" width="4.80" height="12.18" fill="#4aa8f5"/><rect x="627.60" y="360.24" width="4.80" height="48.71" fill="#4aa8f5"/><rect x="632.40" y="317.00" width="4.80" height="22.80" fill="#4aa8f5"/><rect x="632.40" y="344.00" width="4.80" height="69.00" fill="#4aa8f5"/><rect x="637.20" y="317.00" width="4.10" height="22.80" fill="#b6dafa"/><rect x="637.20" y="344.00" width="4.10" height="69.00" fill="#b6dafa"/><rect x="641.30" y="317.00" width="4.90" height="22.80" fill="#b6dafa"/><rect x="641.30" y="344.00" width="4.90" height="4.06" fill="#b6dafa"/><rect x="641.30" y="360.24" width="4.90" height="4.06" fill="#4aa8f5"/><rect x="641.30" y="388.65" width="4.90" height="12.18" fill="#4aa8f5"/><rect x="641.30" y="400.82" width="4.90" height="8.12" fill="#b6dafa"/><rect x="646.20" y="317.00" width="5.40" height="22.80" fill="#4aa8f5"/><rect x="646.20" y="344.00" width="5.40" height="4.06" fill="#4aa8f5"/><rect x="646.20" y="352.12" width="5.40" height="16.24" fill="#4aa8f5"/><rect x="646.20" y="368.35" width="5.40" height="4.06" fill="#b6dafa"/><rect x="646.20" y="376.47" width="5.40" height="4.06" fill="#4aa8f5"/><rect x="646.20" y="384.59" width="5.40" height="12.18" fill="#4aa8f5"/><rect x="646.20" y="400.82" width="5.40" height="12.18" fill="#4aa8f5"/><rect x="651.60" y="317.00" width="5.90" height="22.80" fill="#4aa8f5"/><rect x="651.60" y="344.00" width="5.90" height="4.06" fill="#4aa8f5"/><rect x="651.60" y="356.18" width="5.90" height="4.06" fill="#b6dafa"/><rect x="651.60" y="380.53" width="5.90" height="8.12" fill="#4aa8f5"/><rect x="651.60" y="388.65" width="5.90" height="16.24" fill="#b6dafa"/><rect x="651.60" y="404.88" width="5.90" height="8.12" fill="#4aa8f5"/><rect x="657.50" y="317.00" width="3.60" height="22.80" fill="#b6dafa"/><rect x="657.50" y="344.00" width="3.60" height="69.00" fill="#b6dafa"/><rect x="661.10" y="317.00" width="5.40" height="3.30" fill="#4aa8f5"/><rect x="661.10" y="324.20" width="5.40" height="15.60" fill="#4aa8f5"/><rect x="661.10" y="344.00" width="5.40" height="4.06" fill="#4aa8f5"/><rect x="661.10" y="356.18" width="5.40" height="4.06" fill="#4aa8f5"/><rect x="661.10" y="364.29" width="5.40" height="4.06" fill="#4aa8f5"/><rect x="661.10" y="372.41" width="5.40" height="4.06" fill="#4aa8f5"/><rect x="661.10" y="380.53" width="5.40" height="4.06" fill="#4aa8f5"/><rect x="661.10" y="388.65" width="5.40" height="4.06" fill="#4aa8f5"/><rect x="661.10" y="396.76" width="5.40" height="4.06" fill="#4aa8f5"/><rect x="661.10" y="404.88" width="5.40" height="8.12" fill="#4aa8f5"/><rect x="666.50" y="317.00" width="6.00" height="3.30" fill="#4aa8f5"/><rect x="666.50" y="324.20" width="6.00" height="15.60" fill="#4aa8f5"/><rect x="666.50" y="344.00" width="6.00" height="4.06" fill="#4aa8f5"/><rect x="666.50" y="360.24" width="6.00" height="4.06" fill="#b6dafa"/><rect x="666.50" y="376.47" width="6.00" height="8.12" fill="#b6dafa"/><rect x="666.50" y="396.76" width="6.00" height="8.12" fill="#b6dafa"/><rect x="666.50" y="404.88" width="6.00" height="4.06" fill="#4aa8f5"/><rect x="672.50" y="317.00" width="4.70" height="22.80" fill="#b6dafa"/><rect x="672.50" y="344.00" width="4.70" height="44.65" fill="#b6dafa"/><rect x="672.50" y="396.76" width="4.70" height="16.24" fill="#b6dafa"/><rect x="677.20" y="317.00" width="5.80" height="22.80" fill="#4aa8f5"/><rect x="677.20" y="344.00" width="5.80" height="12.18" fill="#4aa8f5"/><rect x="677.20" y="368.35" width="5.80" height="8.12" fill="#4aa8f5"/><rect x="677.20" y="384.59" width="5.80" height="8.12" fill="#4aa8f5"/><rect x="677.20" y="404.88" width="5.80" height="4.06" fill="#4aa8f5"/></g>
<defs><linearGradient id="lg1" gradientUnits="userSpaceOnUse" x1="311.8" y1="413.5" x2="101" y2="460"><stop offset="0" stop-color="#1c1cc8"/><stop offset="0.45" stop-color="#2626cc"/><stop offset="0.85" stop-color="#3a3a6a"/><stop offset="1" stop-color="#333"/></linearGradient><linearGradient id="lg2" gradientUnits="userSpaceOnUse" x1="474" y1="413.5" x2="684" y2="460"><stop offset="0" stop-color="#1c1cc8"/><stop offset="0.45" stop-color="#2626cc"/><stop offset="0.85" stop-color="#3a3a6a"/><stop offset="1" stop-color="#333"/></linearGradient></defs>
<line x1="311.8" y1="413.5" x2="101" y2="460" stroke="url(#lg1)" stroke-width="1" stroke-dasharray="2.2,1.5"/>
<line x1="474" y1="413.5" x2="684" y2="460" stroke="url(#lg2)" stroke-width="1" stroke-dasharray="2.2,1.5"/>
<text x="1.8" y="449.9" font-size="16.5" fill="#000" stroke="#000" stroke-width="0.25" stroke-linejoin="round" font-family='"Liberation Sans", Arial, Helvetica, sans-serif'>c</text>
<text x="99.3" y="445.8" font-size="10.4" font-weight="bold" font-family='"Liberation Sans", Arial, Helvetica, sans-serif'>61,684,707</text>
<text x="684" y="445.7" font-size="10.4" font-weight="bold" text-anchor="end" font-family='"Liberation Sans", Arial, Helvetica, sans-serif'>65,212,580</text>
<line x1="0" y1="460.4" x2="685" y2="460.4" stroke="#808080" stroke-width="1.1"/>
<line x1="0.5" y1="460" x2="0.5" y2="638.6" stroke="#7a7a7a" stroke-width="1"/>
<line x1="684.35" y1="460" x2="684.35" y2="638.6" stroke="#9a9a9a" stroke-width="1.3"/>
<line x1="0" y1="638.1" x2="685" y2="638.1" stroke="#a5a5a5" stroke-width="1.3"/>
<line x1="350" y1="460.4" x2="522" y2="460.4" stroke="#7474f0" stroke-width="1.1"/>
<line x1="100.9" y1="461" x2="100.9" y2="637.5" stroke="#f4a8a8" stroke-width="1"/>
<text x="99.8" y="471.6" font-size="8.9" text-anchor="end" fill="#2a2a2a" stroke="#2a2a2a" stroke-width="0.15" stroke-linejoin="round" font-family='"Liberation Sans", Arial, Helvetica, sans-serif'>chr10:</text>
<text x="152.0" y="471.6" font-size="8.85" text-anchor="end" fill="#2a2a2a" stroke="#2a2a2a" stroke-width="0.15" stroke-linejoin="round" font-family='"Liberation Sans", Arial, Helvetica, sans-serif'>62,000,000</text>
<line x1="153.3" y1="463.5" x2="153.3" y2="473.5" stroke="#222" stroke-width="1"/>
<text x="234.6" y="471.6" font-size="8.85" text-anchor="end" fill="#2a2a2a" stroke="#2a2a2a" stroke-width="0.15" stroke-linejoin="round" font-family='"Liberation Sans", Arial, Helvetica, sans-serif'>62,500,000</text>
<line x1="235.9" y1="463.5" x2="235.9" y2="473.5" stroke="#222" stroke-width="1"/>
<text x="317.1" y="471.6" font-size="8.85" text-anchor="end" fill="#2a2a2a" stroke="#2a2a2a" stroke-width="0.15" stroke-linejoin="round" font-family='"Liberation Sans", Arial, Helvetica, sans-serif'>63,000,000</text>
<line x1="318.4" y1="463.5" x2="318.4" y2="473.5" stroke="#222" stroke-width="1"/>
<text x="399.6" y="471.6" font-size="8.85" text-anchor="end" fill="#2a2a2a" stroke="#2a2a2a" stroke-width="0.15" stroke-linejoin="round" font-family='"Liberation Sans", Arial, Helvetica, sans-serif'>63,500,000</text>
<line x1="400.9" y1="463.5" x2="400.9" y2="473.5" stroke="#222" stroke-width="1"/>
<text x="482.2" y="471.6" font-size="8.85" text-anchor="end" fill="#2a2a2a" stroke="#2a2a2a" stroke-width="0.15" stroke-linejoin="round" font-family='"Liberation Sans", Arial, Helvetica, sans-serif'>64,000,000</text>
<line x1="483.5" y1="463.5" x2="483.5" y2="473.5" stroke="#222" stroke-width="1"/>
<text x="564.8" y="471.6" font-size="8.85" text-anchor="end" fill="#2a2a2a" stroke="#2a2a2a" stroke-width="0.15" stroke-linejoin="round" font-family='"Liberation Sans", Arial, Helvetica, sans-serif'>64,500,000</text>
<line x1="566.0" y1="463.5" x2="566.0" y2="473.5" stroke="#222" stroke-width="1"/>
<text x="647.3" y="471.6" font-size="8.85" text-anchor="end" fill="#2a2a2a" stroke="#2a2a2a" stroke-width="0.15" stroke-linejoin="round" font-family='"Liberation Sans", Arial, Helvetica, sans-serif'>65,000,000</text>
<line x1="648.6" y1="463.5" x2="648.6" y2="473.5" stroke="#222" stroke-width="1"/>
<text x="3.5" y="482.3" font-size="9.1" fill="#a81c1c" font-family='"Liberation Sans", Arial, Helvetica, sans-serif'>ENSBTAT00000015487</text>
<text x="3.5" y="493.2" font-size="9.1" fill="#a81c1c" font-family='"Liberation Sans", Arial, Helvetica, sans-serif'>ENSBTAT00000002944</text>
<text x="3.5" y="504.1" font-size="9.1" fill="#a81c1c" font-family='"Liberation Sans", Arial, Helvetica, sans-serif'>ENSBTAT00000031441</text>
<text x="3.5" y="515.0" font-size="9.1" fill="#a81c1c" font-family='"Liberation Sans", Arial, Helvetica, sans-serif'>ENSBTAT00000059763</text>
<text x="3.5" y="525.9" font-size="9.1" fill="#a81c1c" font-family='"Liberation Sans", Arial, Helvetica, sans-serif'>ENSBTAT00000046583</text>
<text x="3.5" y="536.8" font-size="9.1" fill="#a81c1c" font-family='"Liberation Sans", Arial, Helvetica, sans-serif'>ENSBTAT00000064474</text>
<text x="3.5" y="547.7" font-size="9.1" fill="#a81c1c" font-family='"Liberation Sans", Arial, Helvetica, sans-serif'>ENSBTAT00000055253</text>
<text x="3.5" y="558.6" font-size="9.1" fill="#a81c1c" font-family='"Liberation Sans", Arial, Helvetica, sans-serif'>ENSBTAT00000006382</text>
<text x="3.5" y="569.5" font-size="9.1" fill="#a81c1c" font-family='"Liberation Sans", Arial, Helvetica, sans-serif'>ENSBTAT00000022349</text>
<text x="3.5" y="580.4" font-size="9.1" fill="#a81c1c" font-family='"Liberation Sans", Arial, Helvetica, sans-serif'>ENSBTAT00000008222</text>
<text x="3.5" y="591.3" font-size="9.1" fill="#a81c1c" font-family='"Liberation Sans", Arial, Helvetica, sans-serif'>ENSBTAT00000026485</text>
<text x="3.5" y="602.2" font-size="9.1" fill="#a81c1c" font-family='"Liberation Sans", Arial, Helvetica, sans-serif'>ENSBTAT00000051482</text>
<text x="3.5" y="613.1" font-size="9.1" fill="#a81c1c" font-family='"Liberation Sans", Arial, Helvetica, sans-serif'>ENSBTAT00000013690</text>
<text x="3.5" y="624.0" font-size="9.1" fill="#a81c1c" font-family='"Liberation Sans", Arial, Helvetica, sans-serif'>ENSBTAT00000016245</text>
<text x="3.5" y="634.9" font-size="9.1" fill="#a81c1c" font-family='"Liberation Sans", Arial, Helvetica, sans-serif'>ENSBTAT00000061150</text>
<rect x="101.8" y="474.6" width="12.10" height="9.50" fill="#960000" opacity="1"/>
<rect x="103.2" y="474.6" width="0.70" height="9.50" fill="#fff" opacity="0.75"/>
<rect x="104.4" y="474.6" width="0.70" height="9.50" fill="#fff" opacity="0.75"/>
<rect x="110" y="474.6" width="0.70" height="9.50" fill="#fff" opacity="0.75"/>
<rect x="111.9" y="474.6" width="0.70" height="9.50" fill="#fff" opacity="0.75"/>
<line x1="134.2" y1="489.7" x2="154" y2="489.7" stroke="#960000" stroke-width="0.9"/>
<rect x="134.2" y="485.5" width="0.90" height="9.00" fill="#960000" opacity="1"/>
<rect x="139.1" y="485.5" width="0.90" height="9.00" fill="#960000" opacity="1"/>
<rect x="140.5" y="485.5" width="0.90" height="9.00" fill="#960000" opacity="1"/>
<rect x="142.6" y="485.5" width="0.90" height="9.00" fill="#960000" opacity="1"/>
<rect x="153.8" y="485.5" width="23.60" height="9.30" fill="#960000" opacity="1"/>
<rect x="156.2" y="485.5" width="0.60" height="9.30" fill="#fff" opacity="0.6"/>
<rect x="163.2" y="485.5" width="0.60" height="9.30" fill="#fff" opacity="0.6"/>
<rect x="167.4" y="485.5" width="0.60" height="9.30" fill="#fff" opacity="0.6"/>
<rect x="172.6" y="485.5" width="0.60" height="9.30" fill="#fff" opacity="0.6"/>
<rect x="174.8" y="485.5" width="0.60" height="9.30" fill="#fff" opacity="0.6"/>
<polyline points="136.6,488.0 138.2,489.7 136.6,491.4" fill="none" stroke="#960000" stroke-width="0.6"/>
<polyline points="147.6,488.0 149.2,489.7 147.6,491.4" fill="none" stroke="#960000" stroke-width="0.6"/>
<rect x="200.3" y="495.40000000000003" width="3.00" height="10.40" fill="#960000" opacity="1"/>
<rect x="203" y="508.00000000000006" width="1.00" height="6.60" fill="#b84040" opacity="1"/>
<rect x="206.8" y="517.2" width="15.00" height="10.50" fill="#960000" opacity="1"/>
<rect x="209.3" y="517.2" width="0.90" height="10.50" fill="#fff" opacity="0.45"/>
<rect x="211.4" y="517.2" width="0.90" height="10.50" fill="#fff" opacity="0.45"/>
<rect x="214.8" y="517.2" width="0.90" height="10.50" fill="#fff" opacity="0.35"/>
<rect x="218.6" y="517.2" width="0.90" height="10.50" fill="#fff" opacity="0.5"/>
<rect x="220.4" y="517.2" width="0.90" height="10.50" fill="#fff" opacity="0.55"/>
<rect x="221.8" y="528.2" width="1.00" height="9.90" fill="#b84040" opacity="1"/>
<rect x="225.7" y="539.1" width="5.70" height="10.50" fill="#960000" opacity="1"/>
<rect x="227.8" y="539.1" width="1.20" height="10.50" fill="#fff" opacity="0.5"/>
<rect x="231.4" y="550.4" width="1.60" height="9.80" fill="#960000" opacity="1"/>
<rect x="234.3" y="550.4" width="1.50" height="9.80" fill="#b03030" opacity="1"/>
<rect x="233" y="554.9" width="1.30" height="1.30" fill="#960000" opacity="1"/>
<rect x="296" y="561.6" width="3.20" height="9.30" fill="#960000" opacity="1"/>
<line x1="299" y1="566.3" x2="306.5" y2="566.3" stroke="#960000" stroke-width="0.9"/>
<rect x="306" y="564.0000000000001" width="1.00" height="4.60" fill="#960000" opacity="1"/>
<rect x="422.7" y="572.3" width="1.30" height="9.60" fill="#c66060" opacity="1"/>
<rect x="451.59999999999997" y="585.4" width="1.30" height="5.30" fill="#c66060" opacity="1"/>
<rect x="514.5" y="595.9" width="1.30" height="6.10" fill="#c66060" opacity="1"/>
<rect x="654.8" y="605.4000000000001" width="1.40" height="9.50" fill="#960000" opacity="1"/>
<rect x="657.3" y="604.9000000000001" width="1.30" height="10.00" fill="#960000" opacity="1"/>
<rect x="659.6" y="604.9000000000001" width="1.30" height="10.00" fill="#960000" opacity="1"/>
<line x1="654.8" y1="610.4" x2="664.6" y2="610.4" stroke="#960000" stroke-width="0.9"/>
<rect x="663.8" y="607.8000000000001" width="1.00" height="5.20" fill="#b03030" opacity="1"/>
<rect x="667" y="615.8000000000001" width="3.10" height="10.30" fill="#960000" opacity="1"/>
<rect x="677.1" y="626.7" width="1.00" height="10.90" fill="#c03030" opacity="1"/>
<rect x="678.7" y="626.7" width="1.10" height="10.90" fill="#c03030" opacity="1"/>
<rect x="681" y="626.7" width="1.30" height="10.90" fill="#b82828" opacity="1"/>
<rect x="678.1" y="631.6" width="3.10" height="1.30" fill="#a01818" opacity="1"/>
<line x1="214.1" y1="595" x2="214.1" y2="538.5" stroke="#ff1ee6" stroke-width="2.3" stroke-dasharray="4.4,1.8"/>
<polygon points="214.1,531.8 210,539 218.3,539" fill="#ff1ee6"/>
<text x="184.3" y="611.2" font-size="13.9" font-style="italic" fill="#000" stroke="#000" stroke-width="0.15" stroke-linejoin="round" font-family='"Liberation Sans", Arial, Helvetica, sans-serif'>SLC12A1</text>
<text x="1.5" y="683.8" font-size="18.0" fill="#000" stroke="#000" stroke-width="0.2" stroke-linejoin="round" font-family='"Liberation Sans", Arial, Helvetica, sans-serif'>d</text>
<text transform="translate(97.8,700.1) scale(1.0,1.06)" font-size="10.4" fill="#000" stroke="#000" stroke-width="0.4" stroke-linejoin="round" font-family='"Liberation Sans", Arial, Helvetica, sans-serif'>351</text>
<text transform="translate(287.4,700.4) scale(1.0,1.04)" font-size="10.4" fill="#000" stroke="#000" stroke-width="0.4" stroke-linejoin="round" font-family='"Liberation Sans", Arial, Helvetica, sans-serif'>378</text>
<text x="217.5" y="695.6" font-size="10.3" fill="#fa14e6" stroke="#fa14e6" stroke-width="0.3" stroke-linejoin="round" font-family='"Liberation Sans", Arial, Helvetica, sans-serif'>p.Pro372Leu</text>
<text x="18.7" y="709.8" font-size="10.3" fill="#000" stroke="#000" stroke-width="0.35" stroke-linejoin="round" font-family='"Liberation Sans", Arial, Helvetica, sans-serif'>Cattle_risk-allele</text>
<text x="115.3" y="710.0" font-size="10.6" font-weight="bold" font-family='"DejaVu Sans Mono", "Liberation Mono", monospace' textLength="172.8" lengthAdjust="spacingAndGlyphs">NEKRARGFFNYQASIFAENFG<tspan fill="#ff1ee6">L</tspan>SFTKGE</text>
<text x="18.7" y="721.8" font-size="10.3" fill="#000" stroke="#000" stroke-width="0.35" stroke-linejoin="round" font-family='"Liberation Sans", Arial, Helvetica, sans-serif'>Cattle_ref-allele</text>
<text x="115.3" y="722.0" font-size="10.6" font-weight="bold" font-family='"DejaVu Sans Mono", "Liberation Mono", monospace' textLength="172.8" lengthAdjust="spacingAndGlyphs">NEKRARGFFNYQASIFAENFG<tspan fill="#2030ff">P</tspan>SFTKGE</text>
<text x="18.7" y="733.8" font-size="10.3" fill="#000" stroke="#000" stroke-width="0.35" stroke-linejoin="round" font-family='"Liberation Sans", Arial, Helvetica, sans-serif'>Human</text>
<text x="115.3" y="734.0" font-size="10.6" font-weight="bold" font-family='"DejaVu Sans Mono", "Liberation Mono", monospace' textLength="172.8" lengthAdjust="spacingAndGlyphs">NEKKSRGFFNYQASIFAENFG<tspan fill="#2030ff">P</tspan>RFTKGE</text>
<text x="18.7" y="745.7" font-size="10.3" fill="#000" stroke="#000" stroke-width="0.35" stroke-linejoin="round" font-family='"Liberation Sans", Arial, Helvetica, sans-serif'>Chimpanzee</text>
<text x="115.3" y="745.9" font-size="10.6" font-weight="bold" font-family='"DejaVu Sans Mono", "Liberation Mono", monospace' textLength="172.8" lengthAdjust="spacingAndGlyphs">NEKKSRGFFNYQASIFAENFG<tspan fill="#2030ff">P</tspan>RFTKGE</text>
<text x="18.7" y="757.7" font-size="10.3" fill="#000" stroke="#000" stroke-width="0.35" stroke-linejoin="round" font-family='"Liberation Sans", Arial, Helvetica, sans-serif'>Rhesus monkey</text>
<text x="115.3" y="757.9" font-size="10.6" font-weight="bold" font-family='"DejaVu Sans Mono", "Liberation Mono", monospace' textLength="172.8" lengthAdjust="spacingAndGlyphs">NEKKSRGFFNYQASIFAENFG<tspan fill="#2030ff">P</tspan>RFTKGE</text>
<text x="18.7" y="771.7" font-size="10.3" fill="#000" stroke="#000" stroke-width="0.35" stroke-linejoin="round" font-family='"Liberation Sans", Arial, Helvetica, sans-serif'>Dog</text>
<text x="115.3" y="771.9" font-size="10.6" font-weight="bold" font-family='"DejaVu Sans Mono", "Liberation Mono", monospace' textLength="172.8" lengthAdjust="spacingAndGlyphs">NEKKSRGFFNYQASIFAENFG<tspan fill="#2030ff">P</tspan>SFTKGE</text>
<text x="18.7" y="783.6" font-size="10.3" fill="#000" stroke="#000" stroke-width="0.35" stroke-linejoin="round" font-family='"Liberation Sans", Arial, Helvetica, sans-serif'>Mouse</text>
<text x="115.3" y="783.8" font-size="10.6" font-weight="bold" font-family='"DejaVu Sans Mono", "Liberation Mono", monospace' textLength="172.8" lengthAdjust="spacingAndGlyphs">NEKKSRGFFNYQASIFAENFG<tspan fill="#2030ff">P</tspan>SFTKGE</text>
<text x="18.7" y="795.3" font-size="10.3" fill="#000" stroke="#000" stroke-width="0.35" stroke-linejoin="round" font-family='"Liberation Sans", Arial, Helvetica, sans-serif'>Rat</text>
<text x="115.3" y="795.5" font-size="10.6" font-weight="bold" font-family='"DejaVu Sans Mono", "Liberation Mono", monospace' textLength="172.8" lengthAdjust="spacingAndGlyphs">NEKKSRGFFNYQASIFAENFG<tspan fill="#2030ff">P</tspan>SFTEGE</text>
<text x="18.7" y="807.6" font-size="10.3" fill="#000" stroke="#000" stroke-width="0.35" stroke-linejoin="round" font-family='"Liberation Sans", Arial, Helvetica, sans-serif'>Chicken</text>
<text x="115.3" y="807.8" font-size="10.6" font-weight="bold" font-family='"DejaVu Sans Mono", "Liberation Mono", monospace' textLength="172.8" lengthAdjust="spacingAndGlyphs">NEKKARGFFNYQASIFAENFG<tspan fill="#2030ff">P</tspan>DFRSGE</text>
<text x="18.7" y="820.0" font-size="10.3" fill="#000" stroke="#000" stroke-width="0.35" stroke-linejoin="round" font-family='"Liberation Sans", Arial, Helvetica, sans-serif'>Xenopus</text>
<text x="115.3" y="820.2" font-size="10.6" font-weight="bold" font-family='"DejaVu Sans Mono", "Liberation Mono", monospace' textLength="172.8" lengthAdjust="spacingAndGlyphs">KEKRAQGFFNYQATIFAENFG<tspan fill="#2030ff">P</tspan>DFRNGE</text>
<text x="115.3" y="833.4" font-size="10.6" font-weight="bold" font-family='"DejaVu Sans Mono", "Liberation Mono", monospace' textLength="172.8" lengthAdjust="spacingAndGlyphs">.**...*******.*******.*..***</text>
<text x="338.8" y="683.9" font-size="17.8" fill="#000" stroke="#000" stroke-width="0.25" stroke-linejoin="round" font-family='"Liberation Sans", Arial, Helvetica, sans-serif'>e</text>
<path d="M349.6,739.2 C348.1,710.2 375.0,710.2 373.5,739.2" fill="none" stroke="#231f20" stroke-width="1.9" stroke-linecap="round"/>
<path d="M397.4,739.2 C395.9,710.2 422.8,710.2 421.3,739.2" fill="none" stroke="#231f20" stroke-width="1.9" stroke-linecap="round"/>
<path d="M540.8,739.2 C539.3,710.2 566.2,710.2 564.8,739.2" fill="none" stroke="#231f20" stroke-width="1.9" stroke-linecap="round"/>
<path d="M588.6,739.2 C587.1,710.2 614.0,710.2 612.5,739.2" fill="none" stroke="#231f20" stroke-width="1.9" stroke-linecap="round"/>
<path d="M445.2,739.2 C444.2,711.2 467.1,714.2 468.3,729.5" fill="none" stroke="#231f20" stroke-width="1.9" stroke-linecap="round"/>
<path d="M469.1,733 L469.1,739.2" fill="none" stroke="#231f20" stroke-width="1.9" stroke-linecap="round"/>
<path d="M493.0,739.2 C492.6,737.7 492.0,733.2 490.2,730.4 C488.4,727.6 484.1,725.6 482.3,722.5 C480.5,719.4 479.0,715.0 479.2,712.0 C479.4,709.0 481.1,706.5 483.6,704.4 C486.1,702.3 489.4,700.6 494.2,699.6 C499.0,698.6 506.8,697.8 512.5,698.6 C518.2,699.4 524.6,701.6 528.3,704.2 C532.0,706.9 534.1,711.5 534.6,714.5 C535.1,717.5 532.9,720.1 531.0,722.5 C529.1,724.9 525.3,726.3 523.0,729.1 C520.7,731.9 518.0,737.5 516.9,739.2" fill="none" stroke="#231f20" stroke-width="1.9" stroke-linecap="round"/>
<path d="M373.5,771.5 C372.0,803.5 398.9,803.5 397.4,771.5" fill="none" stroke="#231f20" stroke-width="1.9" stroke-linecap="round"/>
<path d="M421.3,771.5 C419.8,803.5 446.8,803.5 445.2,771.5" fill="none" stroke="#231f20" stroke-width="1.9" stroke-linecap="round"/>
<path d="M469.1,771.5 C467.6,803.5 494.5,803.5 493.0,771.5" fill="none" stroke="#231f20" stroke-width="1.9" stroke-linecap="round"/>
<path d="M516.9,771.5 C515.4,803.5 542.3,803.5 540.8,771.5" fill="none" stroke="#231f20" stroke-width="1.9" stroke-linecap="round"/>
<path d="M564.8,771.5 C563.2,803.5 590.1,803.5 588.6,771.5" fill="none" stroke="#231f20" stroke-width="1.9" stroke-linecap="round"/>
<path d="M349.6,771.5 C349.3,772.8 349.1,776.6 347.5,779.0 C345.9,781.4 342.8,783.8 340.0,786.0 C337.2,788.2 332.6,790.7 330.5,792.5 C328.4,794.3 327.1,795.7 327.5,797.0 C327.9,798.3 330.1,799.5 333.0,800.5 C335.9,801.5 341.3,802.2 345.0,803.0 C348.7,803.8 353.1,804.2 355.0,805.0 C356.9,805.8 357.3,806.5 356.5,807.5 C355.7,808.5 353.1,809.8 350.0,811.0 C346.9,812.2 341.3,813.8 338.0,815.0 C334.7,816.2 331.4,817.4 330.0,818.5 C328.6,819.6 328.2,820.6 329.5,821.5 C330.8,822.4 334.8,823.3 338.0,824.0 C341.2,824.7 346.5,825.2 349.0,825.8 C351.5,826.3 353.2,826.8 353.0,827.3 C352.8,827.8 351.0,828.5 348.0,828.8 C345.0,829.1 338.8,829.2 335.0,829.3 C331.2,829.4 327.1,829.3 325.5,829.3" fill="none" stroke="#231f20" stroke-width="1.9" stroke-linecap="round"/>
<path d="M612.5,771.5 C612.5,772.8 612.0,777.2 612.3,779.0 C612.6,780.8 613.0,781.4 614.5,782.4 C616.0,783.4 619.5,784.2 621.0,785.3 C622.5,786.4 623.3,787.8 623.4,789.0 C623.5,790.2 622.8,791.9 621.8,792.6 C620.8,793.3 619.4,794.0 617.4,793.4 C615.4,792.8 612.3,789.7 610.0,788.9 C607.7,788.1 605.1,788.0 603.5,788.6 C601.9,789.2 600.8,791.1 600.6,792.4 C600.4,793.7 601.0,794.8 602.3,796.5 C603.6,798.2 606.1,800.6 608.6,802.8 C611.1,804.9 615.2,807.7 617.4,809.4 C619.6,811.1 621.4,812.1 621.8,813.1 C622.2,814.1 621.6,815.2 619.6,815.3 C617.6,815.4 613.5,814.7 610.0,813.8 C606.5,812.9 602.0,811.4 598.4,810.1 C594.8,808.8 590.7,806.2 588.4,805.8 C586.1,805.4 584.9,806.8 584.6,807.8 C584.4,808.8 584.6,810.1 586.9,811.6 C589.2,813.1 594.0,814.9 598.4,816.7 C602.8,818.5 608.6,820.8 613.0,822.6 C617.4,824.4 622.2,826.2 624.7,827.7 C627.2,829.2 628.1,830.3 628.3,831.3 C628.5,832.3 628.6,833.3 626.1,833.5 C623.6,833.7 618.8,833.1 613.0,832.4 C607.2,831.7 598.4,829.8 591.1,829.3 C583.8,828.8 574.8,829.4 569.2,829.1 C563.6,828.8 560.4,828.5 557.5,827.5 C554.6,826.5 553.1,824.7 551.7,823.3 C550.3,821.9 549.5,820.0 549.0,819.3" fill="none" stroke="#231f20" stroke-width="1.9" stroke-linecap="round"/>
<path d="M342.00,739.2 L342.00,770.6 A7.65,2.5 0 0 0 357.30,770.6 L357.30,739.2 Z" fill="#1d9de2"/>
<ellipse cx="349.65" cy="739.2" rx="7.65" ry="2.6" fill="#cdcdcd"/>
<line x1="349.65" y1="736.6" x2="349.65" y2="739.5" stroke="#231f20" stroke-width="1.9"/>
<text x="342.50" y="750.2" font-size="8.9" fill="#fff" font-family='"Liberation Sans", Arial, Helvetica, sans-serif'>204</text>
<text x="342.50" y="770.6" font-size="8.9" fill="#fff" font-family='"Liberation Sans", Arial, Helvetica, sans-serif'>182</text>
<path d="M365.90,739.2 L365.90,770.6 A7.65,2.5 0 0 0 381.20,770.6 L381.20,739.2 Z" fill="#1d9de2"/>
<ellipse cx="373.55" cy="739.2" rx="7.65" ry="2.6" fill="#cdcdcd"/>
<line x1="373.55" y1="736.6" x2="373.55" y2="739.5" stroke="#231f20" stroke-width="1.9"/>
<text x="366.40" y="750.2" font-size="8.9" fill="#fff" font-family='"Liberation Sans", Arial, Helvetica, sans-serif'>211</text>
<text x="366.40" y="770.6" font-size="8.9" fill="#fff" font-family='"Liberation Sans", Arial, Helvetica, sans-serif'>233</text>
<path d="M389.80,739.2 L389.80,770.6 A7.65,2.5 0 0 0 405.10,770.6 L405.10,739.2 Z" fill="#1d9de2"/>
<ellipse cx="397.45" cy="739.2" rx="7.65" ry="2.6" fill="#cdcdcd"/>
<line x1="397.45" y1="736.6" x2="397.45" y2="739.5" stroke="#231f20" stroke-width="1.9"/>
<text x="390.30" y="750.2" font-size="8.9" fill="#fff" font-family='"Liberation Sans", Arial, Helvetica, sans-serif'>280</text>
<text x="390.30" y="770.6" font-size="8.9" fill="#fff" font-family='"Liberation Sans", Arial, Helvetica, sans-serif'>258</text>
<path d="M413.70,739.2 L413.70,770.6 A7.65,2.5 0 0 0 429.00,770.6 L429.00,739.2 Z" fill="#1d9de2"/>
<ellipse cx="421.35" cy="739.2" rx="7.65" ry="2.6" fill="#cdcdcd"/>
<line x1="421.35" y1="736.6" x2="421.35" y2="739.5" stroke="#231f20" stroke-width="1.9"/>
<text x="414.20" y="750.2" font-size="8.9" fill="#fff" font-family='"Liberation Sans", Arial, Helvetica, sans-serif'>301</text>
<text x="414.20" y="770.6" font-size="8.9" fill="#fff" font-family='"Liberation Sans", Arial, Helvetica, sans-serif'>318</text>
<path d="M437.60,739.2 L437.60,770.6 A7.65,2.5 0 0 0 452.90,770.6 L452.90,739.2 Z" fill="#1d9de2"/>
<ellipse cx="445.25" cy="739.2" rx="7.65" ry="2.6" fill="#cdcdcd"/>
<line x1="445.25" y1="736.6" x2="445.25" y2="739.5" stroke="#231f20" stroke-width="1.9"/>
<text x="438.10" y="750.2" font-size="8.9" fill="#fff" font-family='"Liberation Sans", Arial, Helvetica, sans-serif'>350</text>
<text x="438.10" y="770.6" font-size="8.9" fill="#fff" font-family='"Liberation Sans", Arial, Helvetica, sans-serif'>328</text>
<path d="M461.50,739.2 L461.50,770.6 A7.65,2.5 0 0 0 476.80,770.6 L476.80,739.2 Z" fill="#1d9de2"/>
<ellipse cx="469.15" cy="739.2" rx="7.65" ry="2.6" fill="#cdcdcd"/>
<line x1="469.15" y1="736.6" x2="469.15" y2="739.5" stroke="#231f20" stroke-width="1.9"/>
<text x="462.00" y="750.2" font-size="8.9" fill="#fff" font-family='"Liberation Sans", Arial, Helvetica, sans-serif'>379</text>
<text x="462.00" y="770.6" font-size="8.9" fill="#fff" font-family='"Liberation Sans", Arial, Helvetica, sans-serif'>401</text>
<path d="M485.40,739.2 L485.40,770.6 A7.65,2.5 0 0 0 500.70,770.6 L500.70,739.2 Z" fill="#1d9de2"/>
<ellipse cx="493.05" cy="739.2" rx="7.65" ry="2.6" fill="#cdcdcd"/>
<line x1="493.05" y1="736.6" x2="493.05" y2="739.5" stroke="#231f20" stroke-width="1.9"/>
<text x="485.90" y="750.2" font-size="8.9" fill="#fff" font-family='"Liberation Sans", Arial, Helvetica, sans-serif'>438</text>
<text x="485.90" y="770.6" font-size="8.9" fill="#fff" font-family='"Liberation Sans", Arial, Helvetica, sans-serif'>416</text>
<path d="M509.30,739.2 L509.30,770.6 A7.65,2.5 0 0 0 524.60,770.6 L524.60,739.2 Z" fill="#1d9de2"/>
<ellipse cx="516.95" cy="739.2" rx="7.65" ry="2.6" fill="#cdcdcd"/>
<line x1="516.95" y1="736.6" x2="516.95" y2="739.5" stroke="#231f20" stroke-width="1.9"/>
<text x="509.80" y="750.2" font-size="8.9" fill="#fff" font-family='"Liberation Sans", Arial, Helvetica, sans-serif'>488</text>
<text x="509.80" y="770.6" font-size="8.9" fill="#fff" font-family='"Liberation Sans", Arial, Helvetica, sans-serif'>510</text>
<path d="M533.20,739.2 L533.20,770.6 A7.65,2.5 0 0 0 548.50,770.6 L548.50,739.2 Z" fill="#1d9de2"/>
<ellipse cx="540.85" cy="739.2" rx="7.65" ry="2.6" fill="#cdcdcd"/>
<line x1="540.85" y1="736.6" x2="540.85" y2="739.5" stroke="#231f20" stroke-width="1.9"/>
<text x="533.70" y="750.2" font-size="8.9" fill="#fff" font-family='"Liberation Sans", Arial, Helvetica, sans-serif'>562</text>
<text x="533.70" y="770.6" font-size="8.9" fill="#fff" font-family='"Liberation Sans", Arial, Helvetica, sans-serif'>545</text>
<path d="M557.10,739.2 L557.10,770.6 A7.65,2.5 0 0 0 572.40,770.6 L572.40,739.2 Z" fill="#1d9de2"/>
<ellipse cx="564.75" cy="739.2" rx="7.65" ry="2.6" fill="#cdcdcd"/>
<line x1="564.75" y1="736.6" x2="564.75" y2="739.5" stroke="#231f20" stroke-width="1.9"/>
<text x="557.60" y="750.2" font-size="8.9" fill="#fff" font-family='"Liberation Sans", Arial, Helvetica, sans-serif'>569</text>
<text x="557.60" y="770.6" font-size="8.9" fill="#fff" font-family='"Liberation Sans", Arial, Helvetica, sans-serif'>591</text>
<path d="M581.00,739.2 L581.00,770.6 A7.65,2.5 0 0 0 596.30,770.6 L596.30,739.2 Z" fill="#1d9de2"/>
<ellipse cx="588.65" cy="739.2" rx="7.65" ry="2.6" fill="#cdcdcd"/>
<line x1="588.65" y1="736.6" x2="588.65" y2="739.5" stroke="#231f20" stroke-width="1.9"/>
<text x="581.50" y="750.2" font-size="8.9" fill="#fff" font-family='"Liberation Sans", Arial, Helvetica, sans-serif'>623</text>
<text x="581.50" y="770.6" font-size="8.9" fill="#fff" font-family='"Liberation Sans", Arial, Helvetica, sans-serif'>601</text>
<path d="M604.90,739.2 L604.90,770.6 A7.65,2.5 0 0 0 620.20,770.6 L620.20,739.2 Z" fill="#1d9de2"/>
<ellipse cx="612.55" cy="739.2" rx="7.65" ry="2.6" fill="#cdcdcd"/>
<line x1="612.55" y1="736.6" x2="612.55" y2="739.5" stroke="#231f20" stroke-width="1.9"/>
<text x="605.40" y="750.2" font-size="8.9" fill="#fff" font-family='"Liberation Sans", Arial, Helvetica, sans-serif'>625</text>
<text x="605.40" y="770.6" font-size="8.9" fill="#fff" font-family='"Liberation Sans", Arial, Helvetica, sans-serif'>644</text>
<defs><radialGradient id="rg"><stop offset="0" stop-color="#ff33ee"/><stop offset="0.6" stop-color="#ff44ee"/><stop offset="1" stop-color="#ff88f4" stop-opacity="0.2"/></radialGradient></defs>
<circle cx="469.2" cy="731.4" r="4.2" fill="url(#rg)"/>
<text x="442.9" y="691.2" font-size="10.2" fill="#fa14e6" stroke="#fa14e6" stroke-width="0.3" stroke-linejoin="round" font-family='"Liberation Sans", Arial, Helvetica, sans-serif'>p.Pro372Leu</text>
<line x1="476.2" y1="696.7" x2="471.2" y2="717" stroke="#fa14e6" stroke-width="1.8" stroke-dasharray="3.2,1.8"/>
<polygon points="469.4,724.2 467.0,716.2 475.0,718.2" fill="#fa14e6"/>
<text x="550.9" y="694.6" font-size="11" font-weight="bold" font-family='"Liberation Sans", Arial, Helvetica, sans-serif'>extracellular side</text>
<text x="550.9" y="854.8" font-size="11" font-weight="bold" font-family='"Liberation Sans", Arial, Helvetica, sans-serif'>intracellular side</text>
</svg>
</body></html>
